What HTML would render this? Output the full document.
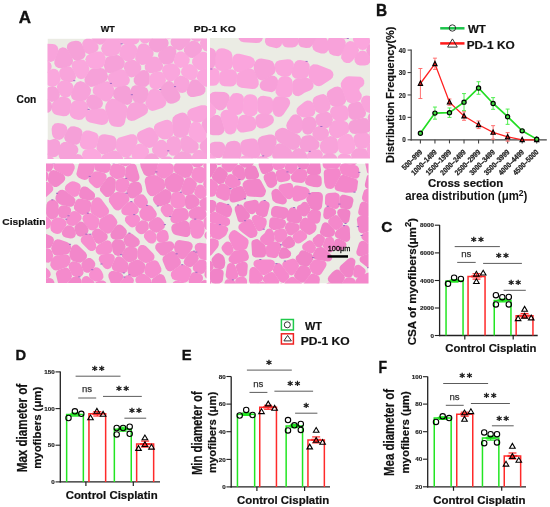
<!DOCTYPE html>
<html><head><meta charset="utf-8"><title>Figure</title>
<style>html,body{margin:0;padding:0;background:#fff;width:550px;height:507px;overflow:hidden}svg{display:block}</style>
</head><body>
<svg width="550" height="507" viewBox="0 0 550 507" font-family="Liberation Sans, Arial, sans-serif"><clipPath id="hc0"><rect x="47.5" y="38.6" width="159.5" height="120.4"/></clipPath>
<g clip-path="url(#hc0)"><rect x="47.5" y="38.6" width="159.5" height="120.4" fill="#ebece4"/>
<path fill="#f8a4db" d="M127.4,110.1 126.9,106.6 124.5,104.0 116.1,99.2 112.5,98.5 109.2,100.0 107.4,101.7 105.8,104.6 105.2,106.8 105.3,109.9 109.3,122.6 111.1,125.3 114.0,126.6 118.0,127.1 121.0,126.7 123.9,124.8 125.0,122.2ZM71.2,103.4 70.8,100.6 69.1,98.4 66.5,97.2 63.7,96.6 61.4,96.7 59.3,97.5 54.2,101.0 52.3,103.2 51.7,106.1 51.8,109.5 52.5,112.0 54.2,113.9 56.6,114.9 63.3,116.2 66.6,116.0 69.3,114.1 70.5,111.1ZM59.9,76.8 61.4,79.4 63.9,80.9 68.8,82.2 72.1,82.1 74.8,80.3 76.1,77.3 75.5,74.0 73.3,69.4 71.6,67.4 69.3,66.3 66.7,66.4 63.4,67.2 60.7,68.7 59.2,71.3 59.2,74.4ZM146.2,63.1 144.7,65.8 144.9,68.9 146.7,71.5 149.7,73.2 152.4,73.2 158.8,71.6 161.2,70.4 162.8,68.1 163.1,65.4 162.2,62.8 159.7,59.1 157.1,56.9 153.7,56.6 150.7,58.3ZM135.2,56.0 135.2,59.3 136.9,62.1 138.7,63.6 141.4,64.9 144.3,64.8 146.7,63.2 152.2,57.4 153.5,54.9 153.6,52.1 152.2,49.6 148.3,45.2 145.0,43.4 141.6,43.5 139.2,44.9 137.8,47.3ZM92.2,39.5 90.0,38.4 86.7,38.6 83.8,40.1 82.2,43.0 82.5,46.4 84.1,50.5 85.8,52.9 88.4,54.1 91.3,53.9 94.7,52.8 97.3,51.1 98.6,48.3 98.3,45.2 96.4,42.7ZM202.3,48.6 204.4,50.8 207.3,51.5 210.2,50.8 213.4,48.9 215.3,47.3 216.2,45.1 217.4,39.8 217.1,36.4 215.0,33.8 213.1,32.4 210.3,31.4 207.3,31.9 205.0,33.9 201.0,39.7 199.9,42.8 200.7,45.9ZM183.8,76.3 180.3,75.5 177.0,77.0 175.5,78.4 174.0,80.6 173.6,83.1 174.4,85.6 177.1,90.2 179.4,92.4 182.5,93.1 185.5,92.0 187.5,89.4 189.2,85.1 189.6,82.4 188.7,79.8 186.7,77.9ZM153.3,146.0 152.0,148.9 152.4,152.0 154.4,154.4 158.0,157.0 160.3,158.0 163.9,157.7 166.4,156.3 168.0,153.9 168.2,151.1 167.1,144.4 165.6,141.5 162.9,139.8 159.6,139.9 156.9,141.7ZM212.1,103.0 210.0,104.6 208.7,107.0 208.7,109.7 209.4,112.9 210.5,115.1 212.7,116.9 215.6,117.6 218.4,116.8 220.5,114.6 221.2,111.8 221.2,107.9 220.5,105.0 218.3,102.8 215.5,102.1ZM167.7,150.9 168.9,153.6 171.2,155.4 174.1,155.7 176.9,154.6 178.9,153.1 180.8,150.7 181.2,147.8 180.5,141.5 179.3,138.6 176.7,136.8 173.4,136.1 169.5,137.6 167.0,140.2 166.4,143.7ZM195.9,169.2 198.3,170.0 200.8,169.8 204.7,168.1 206.2,166.3 208.5,161.8 209.1,159.3 208.5,156.8 207.0,154.7 202.8,151.2 200.4,150.0 197.8,150.0 195.4,151.2 194.0,152.4 191.9,156.3 191.2,162.3 191.7,165.4 193.8,167.8Z"/>
<path fill="#f9a5dc" d="M106.6,112.4 105.4,110.2 103.3,108.8 100.7,108.4 91.9,108.9 89.2,109.8 87.3,111.8 86.1,114.0 85.3,116.5 85.8,119.2 87.4,121.3 89.8,122.5 98.9,124.5 101.9,124.9 104.8,124.6 107.1,122.9 108.4,120.4 108.2,117.5ZM96.0,85.2 93.6,87.0 92.6,89.9 93.0,92.9 95.0,95.2 102.6,100.6 105.0,101.6 107.6,101.4 109.9,100.1 111.3,98.8 113.0,95.8 114.1,90.8 114.1,88.2 112.9,85.9 110.8,83.3 107.7,81.3 104.0,81.7ZM87.9,111.8 88.6,109.3 88.3,106.8 87.3,104.3 85.2,101.6 81.9,100.6 76.3,100.5 73.6,101.2 71.5,103.1 70.5,105.8 69.8,112.7 70.2,115.4 71.8,117.6 74.2,118.9 78.5,119.9 82.1,119.6 84.8,117.1ZM147.8,108.3 149.7,110.1 152.1,110.9 154.6,110.6 162.8,107.7 165.4,105.6 166.4,102.4 165.5,99.2 160.6,91.5 158.5,89.6 155.9,88.9 154.0,88.8 150.5,89.8 148.3,92.8 145.6,100.9 145.4,103.4 146.3,105.8ZM58.0,83.4 56.8,86.4 57.4,89.6 59.9,94.2 61.6,96.2 65.1,97.4 67.8,97.3 70.1,96.0 71.6,93.8 73.3,89.5 73.5,86.3 72.1,83.5 69.4,81.8 64.6,80.5 61.3,80.7ZM125.4,85.9 127.8,84.8 129.4,82.6 129.9,80.0 129.2,77.4 126.2,72.1 124.3,70.1 121.7,69.2 119.0,69.5 111.3,72.6 108.6,74.8 107.6,78.3 108.9,81.8 112.1,85.6 114.6,87.4 117.8,87.6ZM36.3,61.8 35.1,64.7 35.5,67.7 37.2,71.5 39.5,74.1 42.8,74.9 46.1,73.7 49.5,71.0 51.3,68.7 51.7,65.9 50.8,63.2 48.6,61.3 44.5,59.1 41.9,58.4 39.3,59.0ZM119.5,51.7 119.4,54.7 120.9,57.4 123.0,59.6 125.6,61.1 128.6,61.2 131.3,60.5 134.0,59.1 135.5,56.6 137.1,51.4 137.2,48.8 136.2,46.3 134.2,44.6 131.6,44.0 126.2,43.9 122.7,45.0 120.6,48.0ZM139.6,39.3 141.1,41.9 143.7,43.4 146.7,43.4 149.3,41.8 155.7,35.3 157.0,33.3 157.3,29.9 156.4,27.1 154.3,25.1 151.5,24.4 148.2,24.4 145.9,24.8 144.0,26.1 140.0,30.2 138.6,32.8 138.6,35.7ZM121.2,31.2 118.8,33.3 117.9,36.4 118.8,39.6 120.2,41.7 122.2,43.6 125.0,44.4 133.8,44.5 136.4,43.9 138.5,42.3 139.6,39.9 139.5,37.2 138.8,34.5 136.6,31.3 133.2,28.8 130.4,27.8 127.4,28.3ZM162.7,24.4 159.8,25.1 157.7,27.3 156.9,30.2 157.7,33.1 159.9,35.2 165.6,38.4 168.5,39.2 171.4,38.4 173.5,36.3 175.4,33.1 176.1,30.2 175.4,27.3 173.2,25.1 170.3,24.4ZM191.1,108.4 188.8,109.9 187.4,112.2 187.2,114.9 188.3,117.5 189.8,119.6 193.4,121.8 197.6,122.5 199.9,122.5 202.0,121.5 207.4,117.6 209.4,115.0 209.7,111.6 209.2,109.5 207.8,106.8 205.3,105.2 201.1,105.3Z"/>
<path fill="#f6a1d9" d="M87.3,105.6 89.6,108.4 93.1,109.4 97.5,109.1 100.2,108.2 102.2,106.2 103.0,103.5 102.4,100.7 100.5,98.6 96.1,95.4 93.2,94.4 90.2,94.9 87.9,97.0 86.1,100.9 86.5,103.6ZM67.0,142.1 63.7,142.1 60.9,143.8 59.6,146.9 58.6,154.3 58.9,157.1 60.4,159.3 63.8,161.0 66.4,161.1 68.9,160.0 76.2,154.5 78.1,152.0 78.4,148.9 77.0,146.0 74.4,144.3ZM87.9,85.6 90.8,87.0 94.0,86.6 104.6,81.9 107.2,79.7 108.1,76.5 107.1,72.9 105.6,70.6 103.4,68.6 100.4,68.0 93.1,68.5 90.4,69.4 88.5,71.4 85.2,77.1 84.4,79.6 84.8,82.2 86.4,84.3ZM54.4,60.7 54.3,63.8 55.7,66.5 58.3,68.1 61.3,68.2 68.7,66.4 71.1,65.2 72.7,63.1 73.1,60.5 72.4,57.9 68.2,50.3 65.8,48.0 62.6,47.3 59.5,48.6 57.6,51.3ZM124.7,64.9 124.8,61.8 123.3,59.2 121.0,56.7 118.6,55.3 115.9,55.0 109.7,56.0 106.5,57.5 104.9,60.6 103.8,65.7 105.1,70.6 107.0,72.4 109.5,73.2 112.1,72.8 121.2,69.2 123.3,67.7ZM68.9,166.5 70.4,168.3 72.5,169.4 79.4,171.2 82.6,171.2 85.4,169.3 86.6,166.3 86.1,163.0 83.1,157.2 80.8,154.8 77.6,154.0 74.5,155.2 70.2,158.4 68.4,160.5 67.8,163.2ZM161.2,62.2 163.9,64.4 167.5,64.6 170.2,63.9 172.8,62.5 174.3,60.0 176.3,53.6 176.3,50.3 174.5,47.6 170.8,45.8 167.3,46.6 160.8,50.5 158.6,52.7 157.9,55.7 158.9,58.6ZM57.4,99.5 59.3,97.4 59.9,94.7 59.3,91.9 57.8,89.2 55.7,86.9 52.7,86.1 48.5,86.9 46.3,89.1 44.8,91.9 44.1,94.5 44.7,97.2 46.4,99.3 48.5,100.8 51.8,102.0 55.2,101.0ZM187.7,56.4 190.0,57.8 192.8,58.0 195.3,56.9 199.8,53.5 201.5,51.3 202.1,48.6 201.3,46.0 200.4,44.4 197.4,41.8 195.1,41.0 191.8,40.8 188.9,42.4 185.4,46.0 183.9,48.6 183.9,51.6 185.4,54.2ZM210.3,85.4 209.1,87.8 209.2,90.4 210.4,92.8 212.2,94.2 215.4,95.1 218.3,94.4 220.5,92.2 221.2,88.2 220.6,85.5 218.7,83.4 216.0,82.4 213.2,82.9ZM39.6,145.3 40.0,148.7 42.2,151.2 50.6,156.4 53.3,157.2 56.1,156.7 58.3,154.9 59.4,152.2 60.3,145.2 59.8,141.9 57.5,139.4 54.2,138.7 49.8,140.3 45.7,139.3 43.0,139.9 40.8,141.6ZM205.2,132.1 207.1,134.0 209.7,134.9 212.5,134.4 214.7,132.8 215.8,130.3 217.2,123.4 216.8,119.8 214.3,117.2 210.3,116.0 207.3,117.1 203.9,119.6 202.1,121.7 201.5,124.5 202.3,127.2Z"/>
<path fill="#f5a0d8" d="M124.0,104.3 127.2,105.0 130.3,103.9 132.3,101.2 132.5,98.0 130.8,90.2 129.4,87.5 126.9,85.9 123.9,85.8 117.8,87.1 115.0,88.7 113.4,91.5 113.0,93.4 113.4,97.0 115.8,99.7ZM135.2,76.0 133.7,78.6 133.7,81.6 135.2,84.2 137.9,85.7 142.5,86.9 145.9,86.7 148.7,84.6 149.7,81.3 149.8,76.3 149.3,73.8 147.3,71.3 144.7,70.1 141.8,70.2 139.4,71.7ZM152.4,50.6 154.6,52.1 157.2,52.5 159.7,51.7 165.9,48.0 168.0,45.9 168.7,43.0 167.9,40.1 165.8,38.0 161.0,35.3 158.6,34.5 156.1,34.9 154.0,36.3 150.3,40.1 148.9,42.6 148.8,45.5 150.2,48.0ZM187.0,89.2 186.7,92.4 188.1,95.2 190.7,96.9 193.9,97.0 200.8,95.4 203.7,94.0 205.4,91.4 205.5,88.2 203.8,85.5 198.9,80.8 196.5,79.4 193.7,79.3 191.2,80.6 189.6,82.9ZM64.8,134.6 64.1,137.9 65.4,141.0 68.2,142.9 73.6,144.6 76.7,144.7 79.4,143.2 80.9,140.5 82.4,134.4 82.4,131.4 81.0,128.9 78.5,127.4 74.2,126.2 70.6,126.6 67.9,129.1Z"/>
<path fill="#f7a3da" d="M126.1,114.3 126.4,117.5 128.4,120.1 131.4,121.1 134.6,120.4 145.0,114.9 147.4,112.7 148.2,109.6 147.3,106.5 144.8,103.8 142.4,102.9 135.4,102.1 131.2,103.3 129.4,104.7 127.2,108.2ZM96.5,146.1 96.5,148.8 97.8,151.2 99.0,152.6 102.0,154.4 105.5,154.1 112.8,151.1 115.4,149.1 116.4,146.0 116.6,141.5 116.1,138.8 114.4,136.6 111.9,135.5 104.9,134.2 101.9,134.5 99.5,136.1 98.2,138.7ZM42.0,120.5 39.1,119.7 36.2,120.5 34.0,122.6 33.2,125.5 33.2,132.7 34.2,135.8 36.7,138.0 40.7,138.9 44.0,137.3 45.8,135.1 46.3,132.3 45.8,125.6 45.0,123.0ZM128.5,60.7 125.8,62.1 124.3,64.7 123.8,67.9 124.5,70.1 126.9,74.5 128.7,76.4 131.2,77.4 133.9,77.1 136.1,75.7 139.8,72.0 141.3,69.3 141.2,66.2 139.4,63.6 136.7,61.2 134.3,60.0 131.6,60.0ZM91.3,35.6 91.4,38.3 93.3,41.0 96.7,43.6 99.5,44.7 102.5,44.3 104.9,42.5 106.6,40.2 107.8,37.2 107.2,34.0 105.0,31.7 100.9,29.3 97.7,28.5 94.6,29.6 93.6,30.3 91.8,32.3ZM58.1,122.9 54.7,123.5 52.3,125.9 51.6,129.1 52.0,134.1 53.0,136.9 55.3,138.9 59.3,140.0 62.0,139.1 64.0,137.0 66.7,132.2 67.4,129.7 66.9,127.0 65.3,124.9 62.9,123.7ZM141.3,165.1 138.8,162.0 131.8,157.8 128.1,157.0 127.1,157.1 124.3,158.3 122.5,160.7 121.0,164.4 120.6,167.7 122.2,170.6 124.9,172.8 127.2,173.2 135.9,173.2 138.6,172.6 140.7,170.8 141.7,168.3ZM53.4,164.3 52.5,167.2 53.2,170.2 55.3,172.4 58.3,173.2 63.4,173.2 66.3,172.5 68.4,170.4 69.2,167.6 68.5,164.7 66.4,161.7 64.3,160.6 61.3,159.7 57.6,159.9 54.8,162.2ZM197.9,25.1 195.1,25.0 192.6,26.1 190.6,27.8 188.6,30.9 189.0,34.6 190.4,37.9 191.8,39.8 195.1,41.5 197.6,41.8 200.0,41.1 201.8,39.4 204.8,35.0 205.8,32.5 205.5,29.8 204.0,27.5 201.7,26.2ZM43.2,151.2 40.0,150.3 36.8,151.4 34.8,154.0 34.5,157.3 35.6,162.8 36.8,165.3 39.0,166.9 45.0,169.5 47.6,169.9 50.2,169.1 52.1,167.3 53.8,164.7 54.7,161.8 54.0,158.9 52.0,156.6ZM196.8,150.7 198.7,147.9 198.6,144.4 196.6,141.6 190.4,136.9 187.8,135.7 184.9,136.0 181.7,137.8 180.4,140.0 180.1,142.5 180.7,147.3 182.0,150.4 184.9,152.2 189.5,153.5 192.3,153.6 194.8,152.4Z"/>
<path fill="#f7a2da" d="M71.3,93.1 71.0,95.9 71.9,98.5 74.0,100.3 76.7,101.0 82.6,101.1 85.4,100.4 87.6,98.4 90.4,94.1 91.2,89.8 89.2,86.2 84.8,82.4 80.5,80.9 76.5,82.5 74.4,85.2ZM172.9,132.2 174.0,135.3 176.7,137.3 177.9,137.7 181.8,137.7 185.2,136.5 187.5,134.9 188.8,132.4 191.0,123.8 191.0,121.2 190.0,118.9 186.9,114.8 184.9,113.1 182.5,112.5 180.0,112.9 175.4,115.1 172.9,117.4 172.2,120.6ZM201.3,142.1 199.6,144.9 199.7,148.1 201.5,150.8 207.3,155.6 210.2,156.9 213.3,156.5 215.7,154.5 218.7,150.2 219.7,147.5 219.3,144.6 217.1,139.3 214.7,136.6 211.2,135.7 209.8,135.9 206.4,137.4Z"/>
<path fill="#faa6dd" d="M80.0,142.2 79.9,144.9 81.1,147.3 83.1,148.9 85.7,149.5 91.8,149.3 94.3,148.7 96.2,147.1 97.3,144.8 98.6,139.0 98.5,136.1 97.1,133.6 94.6,132.2 89.1,130.5 86.0,130.5 83.4,132.0 81.8,134.7ZM162.3,68.3 162.0,70.6 162.6,72.9 165.5,78.4 167.2,80.4 169.7,81.4 172.3,81.2 174.6,79.9 178.6,76.2 179.9,74.4 180.5,71.8 180.0,69.4 178.6,67.4 175.6,64.7 173.1,63.4 170.2,63.4 166.4,64.4 163.9,65.7ZM33.2,91.3 34.2,94.5 36.8,96.6 40.1,97.0 42.5,96.0 44.1,94.1 46.8,89.2 47.6,86.3 46.8,83.4 44.4,79.5 42.3,77.4 39.3,76.7 36.4,77.5 34.0,79.9 33.2,82.7ZM213.9,72.6 212.4,69.6 209.6,67.9 206.3,68.0 201.1,69.7 198.7,71.2 197.3,73.6 196.9,75.2 196.8,78.3 198.4,81.0 202.9,85.3 205.7,86.8 208.9,86.6 211.4,84.7 213.5,82.2 214.5,80.1 214.7,77.7ZM132.1,152.4 131.5,155.1 132.3,157.9 134.3,159.9 136.3,161.1 138.8,161.9 141.4,161.5 143.6,160.0 147.7,155.3 149.1,152.5 148.7,149.3 146.8,146.8 143.5,144.5 140.4,143.4 137.2,144.2 134.9,146.6Z"/>
<path fill="#faa7dd" d="M149.2,83.4 149.9,86.3 152.0,88.5 154.8,89.3 158.7,89.0 160.6,87.7 164.4,83.9 166.0,80.7 165.4,77.1 164.0,74.4 162.3,72.4 160.0,71.4 157.5,71.4 153.7,72.4 150.6,74.4 149.3,77.9ZM76.4,60.1 74.0,61.1 72.2,63.1 71.6,65.7 72.2,68.3 76.0,76.0 78.0,78.3 81.0,79.2 84.0,78.5 86.2,76.3 88.7,71.9 89.5,69.0 88.7,66.0 86.5,62.2 83.9,59.8 80.5,59.4ZM46.3,83.7 48.4,85.8 51.3,86.6 53.2,86.6 55.8,86.0 57.9,84.3 59.5,82.2 60.6,79.7 60.5,77.1 59.3,72.9 57.9,70.4 55.5,68.9 52.7,68.7 50.1,69.9 45.9,73.2 44.2,75.3 43.7,78.0 44.5,80.7ZM194.2,57.1 192.3,59.6 192.0,62.7 193.4,65.5 195.7,68.2 198.6,70.0 201.9,69.9 206.7,68.3 209.2,66.8 210.5,64.2 210.5,61.3 209.0,55.9 207.7,53.4 205.3,51.9 202.5,51.7 199.9,52.8Z"/>
<path fill="#f5a1d8" d="M137.8,85.2 134.8,85.2 132.3,86.6 130.8,89.1 130.7,92.0 132.1,98.3 133.9,101.4 137.1,102.8 140.5,103.2 143.1,102.9 145.3,101.5 146.7,99.3 148.3,94.2 148.5,91.1 147.0,88.3 144.2,86.8ZM35.6,106.7 35.9,109.5 37.5,111.9 40.0,113.2 48.9,112.5 51.4,110.3 52.2,107.0 51.5,103.1 49.8,101.2 45.6,98.1 42.8,97.0 39.9,97.4 37.6,99.2 36.4,101.9ZM174.0,83.9 172.2,82.0 169.8,81.1 167.1,81.3 164.9,82.7 161.8,85.9 160.4,88.1 160.1,90.7 161.0,93.1 166.1,101.1 168.0,103.0 170.6,103.8 173.2,103.4 176.5,102.2 179.3,100.3 180.5,97.1 179.7,93.8ZM80.8,59.8 83.8,58.3 85.5,55.4 85.2,52.0 82.2,44.4 80.7,42.2 78.4,40.9 75.7,40.8 71.5,41.6 69.0,42.7 67.3,44.8 66.8,47.5 67.5,50.1 71.6,57.5 74.1,59.9 77.6,60.4ZM143.7,159.1 142.3,162.1 142.8,165.3 145.0,167.8 148.2,168.7 152.8,168.6 156.1,167.6 158.2,164.8 159.0,162.3 159.1,158.6 157.0,155.7 155.0,154.2 152.4,153.2 149.6,153.5 147.3,155.1Z"/>
<path fill="#fba8de" d="M87.6,148.9 84.8,149.7 82.8,151.7 82.0,154.5 82.6,157.3 85.9,163.8 88.0,166.1 91.0,167.0 94.0,166.2 98.4,163.6 100.2,162.0 101.5,158.1 101.4,155.5 100.2,153.1 98.0,150.7 96.0,149.2 93.5,148.7ZM183.6,66.9 181.6,69.0 180.9,71.9 181.7,74.8 183.8,76.8 188.4,79.5 190.8,80.2 193.6,79.7 195.9,78.2 197.2,75.9 197.8,73.8 197.9,71.0 196.6,68.4 194.4,65.9 192.2,64.4 189.5,64.0 186.9,64.8ZM184.8,52.9 182.3,51.4 179.3,51.4 176.8,52.8 175.2,55.3 174.0,59.4 173.9,62.7 175.6,65.4 177.0,66.7 180.4,68.1 184.0,67.3 187.2,65.2 189.4,62.6 189.8,59.2 188.2,56.2ZM188.5,131.6 188.7,134.9 190.6,137.6 195.6,141.5 198.1,142.6 200.8,142.5 203.1,141.1 204.8,139.5 206.3,137.4 206.7,134.8 205.9,132.3 201.4,124.8 199.8,123.0 197.5,122.0 193.6,122.1 191.2,123.6 189.9,126.2ZM216.8,159.8 213.6,158.5 210.3,159.2 207.9,161.7 206.6,164.4 206.0,168.1 208.3,171.7 212.2,173.2 215.4,173.2 218.3,172.5 220.5,170.3 221.2,167.4 220.7,163.7 219.1,161.7Z"/>
<path fill="#fba7de" d="M89.3,54.0 86.5,56.0 85.3,59.2 86.1,62.5 88.2,66.1 90.5,68.3 93.6,69.0 99.4,68.6 102.9,67.1 104.7,63.9 105.6,59.3 105.6,56.9 103.8,53.6 100.9,51.4 97.3,51.4Z"/>
<path fill="#f8a3db" d="M104.5,154.0 102.2,155.7 101.0,158.3 101.0,162.0 102.5,164.4 108.3,169.8 111.4,171.3 114.9,170.7 118.1,169.0 120.8,166.1 122.8,161.2 123.1,157.9 121.6,155.0 118.8,152.1 115.8,150.5 112.5,150.8ZM40.3,49.6 39.4,54.0 40.6,56.9 42.5,58.6 47.7,61.3 50.9,62.0 54.0,60.7 55.9,58.0 58.1,51.5 58.3,48.8 57.3,46.3 55.2,44.5 52.6,43.9 47.6,43.8 44.7,44.4 42.4,46.4ZM140.2,130.9 138.1,132.5 136.9,134.9 137.3,139.0 139.5,142.2 146.2,147.0 148.8,148.0 151.7,147.6 154.0,146.0 157.4,141.8 158.8,138.4 157.7,134.8 154.2,129.8 152.2,128.0 149.5,127.3 146.9,127.9ZM157.4,165.5 157.1,168.2 158.1,170.8 160.2,172.6 162.8,173.2 165.2,173.2 167.9,172.6 171.9,170.6 174.0,168.8 175.0,166.1 174.6,163.3 173.3,160.0 171.7,157.7 169.3,156.5 166.5,156.5 163.1,157.3 160.6,158.7 159.0,161.0Z"/>
<path fill="#f9a6dc" d="M118.0,37.3 116.0,35.4 113.4,34.6 110.6,35.2 108.5,36.9 102.2,45.1 101.0,48.6 102.1,52.1 103.7,54.2 106.1,56.2 109.3,56.6 115.3,55.6 118.3,54.3 120.0,51.6 121.5,46.6 121.7,44.1 120.8,41.8ZM130.6,134.3 118.6,137.8 116.8,139.7 116.1,142.3 115.9,147.2 116.3,149.5 117.5,151.5 121.8,156.0 124.1,157.4 127.1,157.7 129.8,156.6 131.6,154.5 137.4,142.8 137.7,138.5 136.2,135.8 133.6,134.3ZM157.7,122.7 155.4,124.2 154.1,126.4 153.9,129.1 154.8,131.5 158.5,136.8 162.0,139.1 164.0,139.5 167.9,139.0 170.3,137.7 172.7,135.4 173.4,132.2 173.0,125.2 172.2,122.6 170.3,120.7 167.8,119.8 165.1,120.1Z"/>
<path fill="#f6a2d9" d="M171.2,39.1 170.5,41.7 170.9,44.3 172.5,46.4 175.3,48.9 179.1,50.4 181.6,49.9 183.5,48.6 189.2,42.8 190.7,39.8 190.3,36.4 188.8,32.9 187.3,30.9 185.1,29.7 182.4,28.8 179.8,28.7 177.4,29.6 175.7,31.5ZM209.9,60.8 211.6,63.6 214.6,65.1 217.8,64.6 220.3,62.5 221.2,59.3 221.2,53.9 220.5,51.0 218.4,48.9 215.5,48.1 212.6,48.8 209.4,51.3 208.5,53.6 208.6,56.1ZM175.4,155.1 173.3,158.1 173.5,161.8 175.2,166.1 177.0,168.5 179.8,169.7 182.8,169.4 188.1,167.2 190.5,165.4 191.7,162.5 192.1,158.7 191.8,156.1 190.3,153.8 187.9,152.5 184.0,151.4 181.4,151.3 179.0,152.4Z"/>
<path d="M110.3,83.4h1.3M131.2,94.7h1.3M88.0,109.4h1.3M73.6,80.7h1.3M159.6,89.5h1.3M121.0,43.8h1.3M183.6,29.4h1.3M174.4,86.6h1.3M167.6,150.8h1.3M141.9,163.4h1.3M209.2,172.3h1.3" stroke="#8a5cc0" stroke-width="1.0" stroke-linecap="round" opacity="0.8"/>
</g>
<clipPath id="hc1"><rect x="210" y="38" width="160" height="120.5"/></clipPath>
<g clip-path="url(#hc1)"><rect x="210" y="38" width="160" height="120.5" fill="#ebece4"/>
<path fill="#fba5dd" d="M367.9,37.0 371.4,37.3 374.5,35.4 375.6,34.1 376.9,29.9 376.9,29.1 376.0,26.4 373.9,24.5 371.1,23.8 366.7,23.8 363.6,24.6 361.5,27.1 360.6,30.7 361.8,33.6 364.3,35.5ZM360.8,33.6 357.9,33.3 355.1,34.4 353.3,36.8 352.9,39.7 354.0,42.5 358.0,47.8 360.1,49.5 362.7,50.1 365.4,49.4 367.4,47.6 369.4,44.7 370.4,41.4 369.4,38.2 366.8,36.0ZM203.5,155.5 201.6,158.3 201.6,161.7 203.4,164.5 205.7,166.3 208.3,167.6 211.1,167.4 212.9,166.8 215.4,165.2 216.7,162.6 216.6,159.6 215.1,157.1 212.6,154.7 210.2,153.3 207.5,153.2 205.0,154.3ZM239.4,53.8 236.7,53.8 234.3,55.1 232.7,57.3 232.3,60.0 232.9,67.0 234.2,70.2 237.1,72.1 240.6,71.9 251.0,68.2 253.0,67.0 254.6,64.5 255.0,61.3 253.5,58.3 250.6,56.6Z"/>
<path fill="#faa5dc" d="M355.2,43.3 352.8,41.4 349.8,41.0 347.0,42.2 345.2,44.6 341.3,54.7 341.1,58.3 343.8,61.9 346.4,63.1 349.7,62.9 352.3,61.0 357.8,53.9 359.1,50.3 357.9,46.8ZM279.5,60.2 276.5,61.5 274.7,64.2 274.6,67.5 275.6,71.1 277.4,74.0 278.3,74.8 281.3,76.2 285.7,76.8 288.4,76.5 290.7,75.0 292.0,72.7 293.8,66.7 293.9,63.8 292.7,61.3 290.4,59.6 287.6,59.2ZM232.3,55.0 231.2,52.0 228.5,50.1 224.4,48.5 221.6,48.2 218.7,48.8 216.5,50.8 215.6,53.6 214.9,64.3 215.3,66.9 216.9,69.1 219.7,70.8 222.2,70.9 228.2,70.0 230.8,68.9 232.6,66.6 233.1,63.8Z"/>
<path fill="#f69fd8" d="M369.5,56.8 372.1,58.8 375.4,59.0 378.4,57.4 379.9,54.4 380.4,51.2 380.2,48.3 378.5,45.8 376.8,44.3 373.9,43.0 370.7,43.4 368.2,45.5 367.2,47.0 366.1,50.4 367.2,53.7ZM318.1,27.3 317.2,30.5 318.2,33.6 320.7,35.7 324.9,37.5 327.5,37.9 330.0,37.2 332.7,35.1 333.7,32.8 334.1,30.6 333.7,27.3 331.6,24.7 328.4,23.8 323.5,23.8 320.7,24.5ZM352.0,102.8 349.7,104.1 348.2,106.2 347.8,108.8 348.4,114.7 349.5,117.8 352.1,119.7 355.3,119.9 361.4,118.6 363.8,117.5 365.5,115.5 366.1,112.9 365.4,110.3 362.5,104.7 360.8,102.6 358.4,101.6 355.8,101.7ZM302.0,129.2 302.9,132.0 304.9,134.0 307.7,134.8 310.4,134.2 312.6,132.3 315.8,127.6 316.8,125.2 316.5,122.5 314.7,118.4 312.6,117.0 310.1,116.6 307.2,116.8 304.4,117.7 302.4,119.9 301.7,122.8ZM305.6,135.4 302.6,136.8 300.8,139.5 299.7,143.6 299.9,147.2 302.2,150.0 305.9,151.9 308.2,151.8 315.2,150.2 318.0,148.6 319.6,145.7 319.4,142.5 317.4,139.9 312.5,136.1 310.4,135.1ZM301.6,149.1 298.8,148.1 294.8,149.3 291.9,152.6 290.3,157.2 290.1,159.8 291.0,162.2 292.9,164.0 298.9,167.5 302.5,168.3 305.8,166.7 306.7,165.9 308.3,163.2 308.3,160.2 306.6,154.1 304.2,150.7ZM272.3,152.9 272.1,156.0 273.4,158.8 276.1,160.4 283.0,162.6 286.0,162.7 288.6,161.4 290.3,159.0 291.7,154.8 292.0,152.2 291.1,149.8 289.3,148.0 283.0,144.1 279.7,143.2 276.5,144.3 274.5,147.0ZM222.4,156.4 222.3,159.3 223.6,162.0 226.0,163.6 229.0,163.8 235.3,162.6 237.7,161.5 239.4,159.5 241.1,156.3 241.7,152.9 240.7,145.8 239.6,143.0 237.2,141.2 234.2,140.8 230.5,141.3 227.5,142.6 225.7,145.3ZM195.8,150.3 196.6,153.4 199.0,155.5 202.2,156.1 205.2,154.8 207.1,153.3 208.6,151.4 209.3,147.9 208.3,144.6 205.7,142.5 202.3,142.1 200.3,142.6 198.0,143.7 196.3,145.7 195.8,148.2Z"/>
<path fill="#f9a3db" d="M355.5,56.0 354.3,58.9 354.9,62.1 356.9,64.4 359.9,65.4 364.9,65.5 368.0,64.7 370.2,62.4 370.8,59.3 369.8,56.3 367.3,53.0 365.3,51.2 362.7,50.5 360.1,51.1 358.0,52.8ZM370.1,143.2 370.9,141.1 370.5,137.2 369.3,134.7 367.1,133.1 364.3,132.6 358.5,133.2 355.3,134.4 353.5,137.2 353.4,140.6 354.6,144.5 356.6,147.4 359.8,148.6 362.9,148.8 365.9,148.2 368.1,146.2ZM334.9,106.1 332.4,107.1 330.6,109.1 330.0,111.7 330.5,114.4 331.9,117.1 333.7,119.3 336.3,120.4 342.3,121.2 345.7,120.6 348.1,118.3 348.9,115.0 348.5,110.4 347.4,107.5 345.0,105.5 341.9,105.1ZM334.9,137.7 337.6,138.3 340.2,137.6 346.3,134.2 348.6,132.0 349.3,128.8 349.2,126.3 348.4,123.8 346.6,121.9 344.2,121.0 337.3,120.0 333.8,120.6 331.4,123.1 329.2,127.3 328.8,131.7 330.4,135.0 332.2,136.4ZM298.6,106.5 296.9,108.6 296.4,111.3 297.1,113.9 300.1,116.5 303.6,117.5 309.9,117.1 313.1,115.9 315.1,113.2 315.2,109.8 313.8,104.7 312.4,102.2 310.0,100.7 307.1,100.5 304.5,101.7ZM343.5,153.6 340.6,154.1 338.2,156.0 337.2,158.8 336.7,163.1 337.1,165.9 338.8,168.2 341.9,170.7 344.9,171.9 348.1,171.4 350.5,169.2 352.7,165.5 353.5,162.8 353.0,160.1 351.6,157.3 349.8,155.0 347.0,154.0ZM308.7,75.5 309.0,77.8 310.1,79.8 314.1,84.3 316.3,85.8 319.0,86.2 321.5,85.4 330.7,79.6 332.7,77.5 333.5,74.8 332.8,72.0 330.7,69.7 317.3,64.5 313.2,64.3 310.3,66.2 309.1,69.4ZM270.3,97.0 263.5,95.8 260.3,96.3 257.9,98.5 257.1,101.7 257.3,108.6 258.0,111.3 260.0,113.4 262.7,114.2 267.2,114.5 270.2,113.8 272.5,111.6 273.3,108.6 273.2,102.0 272.4,99.1ZM245.0,114.7 242.2,115.0 239.8,116.6 238.4,119.1 236.9,125.5 236.9,128.4 238.3,130.8 240.6,132.4 243.4,132.6 251.9,130.9 254.4,129.6 256.0,127.2 256.3,124.4 255.7,120.6 254.1,117.4 251.0,115.7Z"/>
<path fill="#f8a1da" d="M343.9,38.8 347.1,38.8 349.9,37.1 351.2,34.2 350.9,31.0 349.3,27.3 347.1,24.7 343.9,23.8 339.7,23.8 337.1,24.4 335.1,26.0 334.0,28.5 333.6,30.3 333.8,33.2 335.3,35.6 337.7,37.0ZM265.5,23.8 262.5,24.5 260.4,26.7 259.7,29.6 261.0,33.3 263.4,35.5 266.6,36.1 269.6,34.8 270.6,34.0 272.3,31.8 272.7,29.0 271.7,26.3 269.6,24.4Z"/>
<path fill="#f8a2da" d="M333.2,55.6 338.4,56.2 341.0,54.9 342.6,52.6 345.5,45.3 345.8,42.2 344.4,39.3 341.7,37.7 335.2,35.7 333.0,35.5 330.6,36.3 328.3,38.7 327.6,42.0 328.4,50.4 329.9,53.8ZM313.0,43.4 312.2,46.6 313.3,49.7 315.9,51.7 321.0,53.5 324.5,53.5 326.8,52.2 328.3,50.0 328.6,47.4 328.1,41.6 327.0,38.7 324.6,36.8 323.0,36.1 320.3,35.7 317.6,36.5 315.7,38.6ZM281.7,41.8 282.6,44.8 284.8,46.9 287.8,47.6 292.5,47.5 295.5,46.8 297.7,44.7 298.5,41.7 298.0,37.3 296.7,35.4 294.5,33.2 291.9,31.8 289.0,31.8 286.0,32.6 282.9,34.6 281.7,38.1ZM266.9,36.4 265.1,39.0 264.9,42.1 266.4,44.9 269.1,46.5 276.6,48.2 279.5,47.3 281.5,45.2 282.2,42.4 282.2,36.7 281.6,34.1 279.5,31.7 277.2,30.7 274.6,30.8 272.4,31.9ZM292.1,90.5 292.9,93.5 295.3,95.7 298.4,96.2 301.3,95.1 304.5,92.8 310.0,90.6 312.3,89.0 313.5,86.5 313.5,83.8 312.2,81.4 310.8,79.8 308.6,78.2 306.0,77.8 297.4,78.5 294.7,79.4 292.8,81.5 292.1,84.3ZM332.6,154.1 335.6,153.3 337.8,151.0 338.4,148.0 338.0,142.0 337.1,139.1 334.8,137.2 333.4,136.4 330.3,135.9 327.3,137.0 322.2,140.8 320.6,142.6 319.7,146.7 320.8,150.7 323.7,153.5 326.3,154.1ZM254.9,165.7 255.4,168.4 257.1,170.6 259.6,171.8 262.4,171.6 265.2,170.8 267.7,169.3 269.1,166.7 269.9,163.6 269.9,160.6 268.4,158.0 265.8,156.6 263.4,155.9 260.9,155.8 257.6,157.5 255.9,159.4 255.1,161.9ZM279.2,96.2 276.0,96.8 273.6,98.9 272.7,102.0 272.8,111.3 273.6,114.1 275.6,116.2 278.4,117.0 281.3,116.4 283.5,114.4 289.2,105.9 290.2,103.1 289.7,100.2 287.9,97.9 285.1,96.9ZM261.2,113.7 258.0,114.5 255.7,117.0 255.2,120.3 255.7,123.6 257.0,126.5 259.6,128.2 262.7,128.4 267.3,127.0 271.1,124.8 273.2,122.8 274.0,119.9 273.3,117.1 271.3,114.9 268.5,114.0Z"/>
<path fill="#f6a0d8" d="M306.0,48.0 309.7,47.7 312.5,45.2 316.6,38.1 317.3,34.7 316.1,31.6 313.2,29.7 310.3,29.4 307.9,30.3 300.5,35.3 298.6,37.4 298.0,40.1 298.0,41.9 298.7,44.8 300.8,46.9ZM298.4,23.8 295.7,24.4 293.6,26.2 292.6,28.7 292.9,31.4 294.8,34.2 297.1,35.6 299.7,35.8 302.8,34.4 304.8,32.2 305.4,29.3 304.5,26.5 302.4,24.5ZM320.9,168.6 323.0,170.7 325.9,171.6 328.8,170.8 334.3,167.8 336.3,165.9 337.2,163.3 337.5,160.1 337.0,156.9 334.8,154.5 331.8,153.6 327.4,153.6 324.1,154.7 322.0,157.5 320.0,162.9 319.7,165.3ZM277.6,129.7 275.6,131.6 274.8,134.3 275.2,137.0 276.2,139.2 278.5,141.9 290.1,149.1 292.9,150.0 295.7,149.4 298.6,147.4 299.8,145.2 300.9,141.2 301.0,138.5 299.9,136.1 297.8,134.4 285.2,128.3 282.4,127.7 279.7,128.5ZM208.8,147.3 209.2,151.4 210.5,153.4 214.0,156.7 216.5,158.1 219.5,158.2 222.0,156.7 223.6,154.2 225.1,149.1 225.3,146.5 224.2,144.0 222.2,142.3 219.5,141.7 214.6,141.7 211.7,142.4 209.6,144.5Z"/>
<path fill="#f59ed7" d="M370.5,112.8 368.5,114.8 367.6,117.6 368.3,120.5 370.1,123.9 372.4,126.3 375.7,127.0 380.0,126.0 381.9,124.1 383.4,121.7 384.2,118.7 384.2,114.9 383.5,112.0 381.3,109.9 378.4,109.1 375.5,109.9ZM276.5,138.6 274.4,135.6 271.9,134.4 269.1,134.6 262.0,136.1 259.3,137.5 257.7,140.1 257.6,143.2 259.8,152.4 261.3,155.1 264.0,156.6 265.7,157.1 268.6,157.1 271.1,155.8 272.7,153.5 276.6,142.9ZM221.7,118.9 220.3,116.5 217.9,115.0 215.1,114.9 212.6,116.0 208.0,119.6 206.6,121.3 205.8,123.4 205.5,126.4 206.5,130.4 208.1,132.7 210.2,134.5 212.9,135.2 218.8,135.2 221.4,134.5 223.4,132.8 224.5,130.4 224.3,127.7Z"/>
<path fill="#f9a4db" d="M378.5,102.2 377.5,99.6 375.4,97.9 371.8,97.0 368.9,95.8 366.1,95.4 363.5,96.3 361.6,98.4 360.9,101.1 361.5,103.8 364.6,109.7 366.7,112.0 369.6,112.9 372.6,112.1 375.9,110.2 378.3,107.7 378.8,104.4ZM376.9,143.0 379.5,143.1 381.9,142.1 383.6,140.0 384.2,137.4 384.2,132.2 383.7,129.7 382.1,127.6 378.0,126.3 375.1,126.6 372.3,127.5 369.9,130.6 369.4,134.5 370.1,137.9 371.6,140.7 374.2,142.3ZM291.8,71.5 291.7,74.3 292.9,76.8 295.1,78.5 297.9,79.0 304.0,78.5 306.6,77.7 308.5,75.7 309.3,73.1 309.8,66.8 309.4,64.3 307.9,62.2 305.7,60.9 300.2,59.9 297.6,60.2 295.4,61.7 294.1,64.0ZM240.3,71.5 237.6,73.5 236.5,76.6 236.2,81.6 236.7,84.4 238.5,86.6 241.2,87.7 252.4,89.1 255.2,88.7 257.5,87.0 258.8,84.3 258.6,81.1 255.3,72.3 253.6,69.8 250.9,68.5 247.9,68.8Z"/>
<path fill="#f7a1d9" d="M239.1,33.5 238.2,36.3 238.9,39.2 240.9,41.4 243.8,42.3 256.1,43.0 259.4,42.7 261.9,40.7 263.0,37.6 262.2,34.4 259.6,30.0 257.2,27.8 253.9,27.3 244.8,28.3 242.3,29.2 240.5,31.1ZM367.7,151.7 365.8,149.3 362.8,148.3 358.7,148.0 356.1,148.5 354.0,149.9 352.4,151.6 351.0,154.7 351.5,158.0 352.6,160.5 354.3,162.5 356.7,163.7 363.6,165.1 366.8,164.8 369.3,163.0 370.5,160.1 370.1,157.0ZM319.5,113.2 316.8,114.7 315.3,117.4 315.4,120.6 316.1,122.7 317.4,125.0 319.6,126.4 323.7,127.9 326.4,128.3 329.0,127.2 330.9,125.2 332.3,122.3 333.0,119.7 332.4,117.1 331.4,114.9 329.7,112.9 327.3,111.8 324.7,111.8ZM342.8,90.0 340.8,87.5 337.8,86.4 334.6,87.0 329.7,89.7 327.7,91.5 326.7,94.1 327.0,96.8 329.2,102.8 330.6,105.0 332.9,106.3 335.5,106.5 341.2,105.7 344.3,104.3 346.1,101.3 345.8,97.9ZM316.9,140.1 320.3,141.3 323.8,140.2 326.7,138.1 328.6,135.7 329.0,132.6 327.8,129.8 325.3,128.0 321.3,126.5 318.8,126.1 316.3,126.9 314.5,128.6 313.3,130.4 312.3,133.1 312.7,136.0 314.5,138.3ZM268.9,165.5 269.1,168.9 271.2,171.7 274.5,172.8 279.1,172.8 282.3,171.8 284.4,169.4 284.9,166.2 283.6,163.2 280.9,161.4 276.6,160.1 273.5,160.0 270.8,161.5 269.3,164.1ZM274.2,64.1 272.5,61.3 269.5,59.9 261.4,58.5 258.9,58.7 256.6,59.9 255.1,62.0 253.8,65.0 253.7,69.3 256.4,76.6 258.4,79.3 261.5,80.4 264.7,79.6 272.7,75.0 274.5,73.3 275.5,71.0 275.4,68.5ZM216.1,108.9 219.2,110.5 222.7,110.0 223.5,109.6 226.3,106.8 229.2,100.4 229.8,97.6 228.9,94.9 226.9,92.9 224.2,92.1 215.1,91.8 212.4,92.3 210.2,94.0 208.8,98.1 209.0,100.9 210.5,103.3Z"/>
<path fill="#f59fd7" d="M353.2,119.9 350.7,121.0 349.1,123.2 348.6,125.9 348.8,128.6 349.8,131.4 352.1,133.4 355.1,134.0 366.2,133.0 368.9,132.0 370.8,129.9 371.6,127.1 370.9,124.4 369.1,120.8 366.4,118.3 362.7,117.9ZM205.1,90.7 202.1,89.5 199.0,90.1 196.6,92.2 195.8,95.3 195.8,97.9 196.4,100.7 198.3,102.8 201.0,103.7 203.7,103.3 205.8,102.5 208.1,100.8 209.3,98.2 209.3,95.0 208.1,92.7Z"/>
<path fill="#faa4dc" d="M349.0,76.3 346.2,76.8 344.0,78.5 342.2,80.6 340.7,83.5 341.0,86.7 345.9,99.6 347.6,101.9 350.1,103.1 352.9,103.0 357.7,101.7 360.2,100.2 361.7,97.6 361.7,94.6 359.5,91.1 359.3,89.6 360.3,87.8 363.1,85.9 364.3,83.4 364.2,80.6 362.9,78.2 360.5,76.7ZM382.3,147.9 381.0,144.7 378.1,142.8 375.1,142.0 371.5,142.1 368.7,144.4 367.6,146.1 366.7,148.8 367.1,151.6 370.1,158.3 371.6,160.4 373.8,161.6 376.4,161.7 378.1,161.4 380.7,160.2 382.5,158.0 382.9,155.2ZM275.5,89.5 275.6,92.8 277.4,95.6 280.5,96.9 286.1,97.5 289.3,96.9 291.7,94.8 292.5,91.7 292.6,82.3 291.9,79.6 290.1,77.5 287.6,76.5 284.5,76.1 281.8,76.4 279.5,77.9 278.1,80.3ZM247.9,171.7 251.3,171.7 254.1,169.8 255.4,166.6 255.5,163.5 255.2,161.1 253.7,159.0 251.6,157.7 246.3,155.9 243.5,155.7 241.0,156.7 239.2,158.8 238.4,161.8 239.1,164.5 240.7,167.7 242.2,169.5 244.2,170.6ZM224.1,70.1 221.6,71.1 219.9,73.1 219.2,75.6 219.0,80.2 219.6,83.1 221.7,85.4 224.5,86.3 230.7,86.5 233.6,85.9 235.8,83.9 236.7,81.1 237.1,75.4 236.7,73.1 235.6,71.1 233.1,69.4 230.3,69.2ZM229.1,110.5 226.5,109.7 223.8,110.2 221.7,111.9 220.5,114.4 220.7,117.2 224.6,130.5 226.0,132.9 228.3,134.3 231.1,134.6 234.6,133.0 236.3,130.1 238.5,120.7 238.2,117.1 235.8,114.3ZM227.1,103.8 226.6,106.6 227.4,109.3 229.5,111.3 234.5,114.2 237.3,115.0 240.1,114.3 242.3,112.3 243.2,109.6 244.0,99.4 243.5,96.5 241.6,94.2 238.8,93.2 236.4,92.9 233.0,93.6 230.6,96.3Z"/>
<path fill="#fba6dd" d="M353.2,137.9 351.3,135.1 348.1,133.8 344.8,134.5 340.5,136.9 338.2,139.2 337.5,142.3 338.0,148.7 338.8,151.3 340.6,153.2 343.1,154.1 347.3,154.5 349.9,154.2 352.2,152.7 354.0,150.6 355.4,148.0 355.3,145.0ZM204.6,80.0 205.4,82.8 207.4,84.9 210.2,85.7 213.4,85.8 216.4,85.2 218.6,83.1 219.5,80.3 219.7,73.9 219.1,71.0 217.2,68.8 214.4,67.9 211.5,68.4 207.9,70.1 205.4,72.3 204.5,75.5ZM242.7,109.5 243.2,112.3 244.9,114.5 247.5,115.7 251.0,116.3 254.4,115.8 256.9,113.6 257.8,110.4 257.6,100.2 256.8,97.5 255.0,95.5 252.4,94.6 249.9,94.3 246.9,94.8 244.5,96.8 243.5,99.6ZM214.1,115.4 216.0,112.8 216.2,109.5 214.6,106.7 211.3,103.5 208.4,101.9 205.1,102.2 201.9,103.5 200.0,104.8 198.8,106.7 198.1,108.3 197.8,111.7 199.4,114.7 202.7,117.9 205.1,119.3 207.8,119.5 210.4,118.4Z"/>
<path fill="#f8a3da" d="M327.9,97.8 326.2,95.4 323.5,94.1 320.5,94.4 316.3,95.9 314.0,97.5 312.7,100.1 312.8,102.9 314.5,109.1 315.9,111.6 318.5,113.1 321.5,113.2 326.3,111.9 329.0,110.3 330.5,107.5 330.3,104.3ZM322.6,157.1 322.9,154.0 321.5,151.3 318.9,149.6 315.9,149.5 311.4,150.5 308.7,152.0 307.1,154.6 307.1,157.7 307.7,160.1 309.4,162.8 312.3,164.3 314.7,164.7 317.4,164.6 319.8,163.3 321.2,161.0Z"/>
<path fill="#f7a0d9" d="M298.9,115.2 296.0,114.2 293.1,114.8 290.9,116.8 287.1,122.5 286.2,125.6 287.0,128.7 289.4,130.9 294.1,133.2 297.0,133.7 299.8,132.8 301.8,130.6 302.5,127.7 302.1,120.2 301.4,117.6ZM252.7,158.6 255.8,158.7 258.5,157.3 260.1,154.7 260.2,151.7 258.0,142.7 256.6,140.1 254.1,138.6 251.1,138.4 245.2,139.4 242.5,140.5 240.6,142.9 240.2,145.9 240.9,151.2 242.2,154.1 244.8,156.0ZM201.2,51.4 199.7,53.5 199.3,56.1 199.8,65.6 200.6,68.3 202.5,70.3 205.2,71.1 208.0,70.6 212.1,68.7 214.4,66.7 215.4,63.8 216.1,54.0 215.5,51.0 213.4,48.7 210.5,47.8 207.7,47.8 203.7,49.2ZM262.5,80.3 260.5,82.3 259.6,85.0 260.1,87.7 261.8,89.9 264.4,91.1 271.9,92.2 274.8,90.8 276.5,88.1 277.9,82.9 278.0,80.2 276.9,77.7 274.7,76.1 272.0,75.6 269.4,76.3Z"/>
<path d="M347.2,38.4h1.3M319.7,24.9h1.3M300.0,35.4h1.3M296.7,36.3h1.3M306.0,61.4h1.3M320.7,126.5h1.3M309.1,151.4h1.3M271.7,160.7h1.3M210.7,69.0h1.3M262.5,155.9h1.3M207.9,153.2h1.3" stroke="#8a5cc0" stroke-width="1.0" stroke-linecap="round" opacity="0.8"/>
</g>
<clipPath id="hc2"><rect x="46" y="163.5" width="160.5" height="119.5"/></clipPath>
<g clip-path="url(#hc2)"><rect x="46" y="163.5" width="160.5" height="119.5" fill="#ebece4"/>
<path fill="#f48acc" d="M183.1,194.1 185.0,195.1 187.2,195.2 190.9,194.4 192.9,193.4 194.2,191.6 196.6,186.1 196.9,183.2 195.3,180.7 192.4,178.2 190.3,177.2 188.0,177.3 185.4,178.7 184.2,180.5 181.3,188.5 181.2,191.3ZM148.5,176.0 146.3,177.1 144.9,179.2 144.7,181.7 146.7,190.9 147.3,192.4 148.5,194.2 150.3,195.9 152.8,196.3 155.1,195.5 163.2,189.9 164.9,187.9 165.2,185.2 164.6,181.8 163.8,179.8 162.2,178.4 156.9,175.6 153.9,175.1ZM161.6,153.2 159.9,155.2 159.7,157.9 160.8,160.2 163.1,161.6 169.6,163.3 172.4,163.1 174.6,161.4 175.5,158.8 175.5,157.2 174.8,154.7 173.0,153.0 169.3,151.0 166.8,150.4 164.4,151.3ZM161.5,219.0 159.7,217.6 157.5,217.1 155.3,217.8 150.9,220.4 149.1,222.3 148.6,224.9 149.4,228.4 150.8,229.9 153.7,231.9 156.3,232.8 159.0,232.0 163.0,229.3 164.6,227.4 165.0,224.9 164.1,222.6ZM220.6,255.1 220.0,252.9 218.5,251.2 216.4,250.4 214.1,250.8 212.3,252.1 211.3,254.2 210.8,256.8 211.2,259.8 213.8,262.2 216.1,262.7 218.4,262.0 220.0,260.3 220.6,258.0ZM42.4,157.6 40.1,157.6 38.1,158.6 36.8,160.5 36.5,162.8 36.9,165.6 37.9,167.9 40.0,169.4 46.6,171.6 49.0,171.8 51.3,170.7 53.3,167.3 53.6,164.9 53.4,162.7 52.1,160.8 50.2,159.7ZM74.0,205.5 73.9,208.5 75.6,210.9 80.1,214.2 82.5,215.0 84.9,214.6 87.8,213.2 89.5,211.8 90.4,209.8 91.2,205.2 91.0,202.8 89.5,200.8 87.3,199.8 80.5,198.7 78.4,198.8 76.5,199.9 75.4,201.7ZM42.1,203.6 39.5,203.0 37.0,203.9 35.3,206.0 34.1,209.2 33.8,211.6 34.7,213.7 36.0,215.4 38.1,217.0 40.7,217.1 42.7,216.7 44.6,215.8 45.9,214.3 46.4,212.3 46.5,208.6 46.1,206.6 44.8,204.9ZM122.2,257.4 120.3,256.4 118.1,256.3 116.2,257.3 114.9,259.0 112.1,265.0 111.8,267.7 113.0,270.2 115.4,271.5 122.3,273.1 124.9,272.9 127.0,271.4 128.0,269.0 128.4,265.4 128.1,263.2 126.8,261.4ZM188.8,279.3 188.6,281.9 189.9,284.2 192.2,285.5 194.0,285.9 196.3,285.9 198.3,284.7 201.6,281.5 202.9,279.6 203.0,277.2 202.0,275.1 200.1,273.8 196.5,272.4 194.0,272.1 191.8,273.1 190.4,275.1ZM101.1,295.7 103.2,296.0 105.3,295.2 106.8,293.7 108.0,291.7 108.6,289.6 108.3,287.5 106.6,283.3 105.3,281.4 103.3,280.4 101.0,280.4 97.6,281.3 95.5,282.6 94.3,284.8 93.5,288.4 93.5,290.6 94.5,292.6 96.3,293.8ZM145.8,288.2 144.0,289.9 143.3,292.3 143.8,294.7 145.6,296.4 148.0,297.1 151.8,297.1 154.2,296.4 156.0,294.6 156.5,292.2 155.9,289.4 153.5,287.1 151.2,286.2 148.7,286.7ZM63.4,285.5 59.9,286.9 58.6,289.3 58.8,292.0 59.6,294.1 61.3,296.3 64.0,297.1 68.0,297.1 70.3,296.5 72.1,294.8 72.7,292.5 72.1,290.1 70.5,288.4 66.7,286.1ZM110.8,288.3 109.1,290.0 108.4,292.4 109.0,294.7 110.8,296.5 113.1,297.1 115.3,297.1 117.6,296.5 119.3,294.8 120.0,292.6 119.7,290.6 117.9,288.2 115.8,286.9 113.3,286.9ZM57.8,282.2 58.9,284.3 60.8,285.6 63.6,285.7 66.3,284.2 70.9,279.0 72.0,276.6 71.7,273.9 70.0,270.3 68.6,268.5 66.5,267.6 64.2,267.9 58.9,269.7 56.8,271.3 55.8,273.7Z"/>
<path fill="#f58bcd" d="M218.2,185.6 218.3,183.1 217.2,180.9 214.4,178.0 212.4,176.7 210.0,176.6 207.9,177.7 204.7,180.5 203.4,182.3 203.1,184.5 203.9,186.6 206.5,190.6 208.1,192.1 210.1,192.7 212.3,192.3 216.3,190.2 217.3,188.4ZM141.6,208.6 139.5,211.5 139.3,212.6 139.7,215.8 140.6,217.7 143.0,219.9 146.3,221.2 148.4,221.6 150.5,220.9 154.6,218.4 156.4,216.5 156.9,214.0 155.9,211.6 152.4,206.8 150.6,205.4 148.3,205.0 146.1,205.7ZM135.6,197.0 134.0,199.0 133.7,201.6 134.8,203.9 137.4,206.8 139.2,208.1 141.4,208.4 143.4,207.6 145.8,206.1 147.5,204.3 148.0,201.9 147.2,199.6 145.1,196.3 143.2,194.6 140.7,194.2 138.4,195.0ZM109.1,202.1 113.9,208.7 116.0,210.3 118.6,210.5 121.0,209.3 127.9,202.6 129.1,200.8 129.4,198.7 128.7,196.7 127.2,194.4 125.6,192.8 123.4,192.2 116.8,192.1 113.6,193.2 110.1,196.3 108.7,198.8ZM109.5,171.1 109.6,174.1 111.4,176.4 116.0,179.1 117.9,179.0 121.6,178.3 124.1,176.9 125.3,174.3 125.8,170.5 125.5,168.4 124.4,166.6 122.6,165.4 117.1,163.5 113.8,163.6 111.8,164.9 110.8,166.7ZM35.3,181.0 36.7,182.9 39.0,183.9 41.4,183.6 45.2,182.2 47.1,180.8 48.1,178.7 48.5,176.3 48.4,174.1 47.3,172.2 45.5,171.0 40.1,169.2 37.5,169.0 35.3,170.3 33.1,173.5 33.4,176.2ZM116.6,225.1 117.5,222.3 116.5,219.6 113.8,215.9 112.1,214.4 109.9,214.0 107.7,214.6 101.9,217.8 100.4,219.1 99.6,220.8 98.7,224.5 98.8,227.4 100.6,229.6 105.4,232.9 107.6,233.7 110.0,233.3 111.8,231.7ZM161.0,287.8 159.0,288.9 157.8,290.8 157.5,293.0 158.3,295.1 160.0,296.6 162.2,297.1 166.7,297.1 169.0,296.5 170.8,294.8 171.4,292.4 170.8,290.0 169.0,288.3 166.7,287.0 164.3,287.0ZM69.0,264.6 68.6,266.5 69.0,268.5 71.5,274.2 73.2,276.1 75.6,276.9 78.7,277.0 81.0,276.5 82.7,275.1 83.6,272.9 83.3,270.6 81.2,265.3 80.0,263.5 78.2,262.5 75.0,261.5 72.8,261.3 70.7,262.2Z"/>
<path fill="#f68dce" d="M199.8,183.2 201.7,183.0 203.2,182.0 207.6,178.2 209.0,176.0 209.0,173.4 207.6,171.2 203.9,167.9 202.1,166.9 200.0,166.8 196.3,167.4 194.0,168.4 192.6,170.4 191.4,173.7 191.3,176.5 192.8,178.9 196.6,182.1ZM207.8,171.6 210.0,172.7 212.4,172.5 214.4,171.1 217.1,168.0 218.1,166.0 218.0,163.8 216.6,160.3 214.9,159.1 211.3,157.5 208.9,157.1 206.7,158.0 205.1,159.8 203.5,163.4 203.2,166.3 204.7,168.9ZM214.8,149.4 212.4,150.1 210.7,151.9 210.1,154.4 211.0,156.8 213.0,158.4 216.7,159.0 219.5,157.3 220.6,154.1 220.0,151.8 218.2,150.0ZM204.1,186.6 202.2,185.0 199.8,184.5 197.4,185.4 195.9,187.3 194.4,190.7 194.2,193.6 195.7,196.1 197.7,197.8 200.3,198.9 203.0,198.4 205.1,197.3 206.9,195.5 207.5,193.0 206.7,190.6ZM194.6,219.0 192.4,219.2 190.6,220.4 189.5,222.3 189.3,224.4 191.0,234.6 192.4,237.2 195.0,238.4 197.6,238.8 200.2,238.3 202.1,236.5 204.1,233.2 204.7,230.1 203.8,223.6 202.4,221.0 199.7,219.7ZM58.3,158.9 56.2,159.4 54.5,160.8 53.7,162.9 53.3,165.8 53.8,168.6 55.7,170.6 65.7,175.9 68.2,176.5 70.5,175.7 72.2,173.9 74.7,168.4 74.7,165.9 73.6,163.9 70.4,160.4 68.8,159.3 67.0,158.9ZM93.1,199.4 91.5,202.3 90.3,209.1 90.6,211.8 92.4,213.9 97.8,217.4 100.2,218.2 102.7,217.6 106.8,215.3 108.6,213.5 109.2,210.9 108.3,208.4 101.3,199.1 99.3,197.6 96.8,197.3 94.5,198.3ZM96.0,247.6 95.6,251.0 96.6,253.1 98.4,254.4 100.7,254.8 108.3,253.9 110.6,253.1 112.1,251.1 112.5,248.7 112.0,244.4 111.2,242.2 109.4,240.7 107.2,240.2 104.9,240.9 98.2,244.8ZM40.3,183.8 38.4,185.2 37.4,187.3 37.5,189.6 38.9,194.4 40.1,196.4 42.1,197.6 44.4,197.7 46.5,196.7 51.8,192.1 53.2,189.9 53.2,187.4 51.9,185.2 49.7,183.1 47.4,181.9 44.8,182.1ZM164.0,205.0 162.0,206.1 160.8,208.0 160.6,210.3 161.5,212.3 163.8,215.5 165.7,217.0 168.1,217.3 170.4,216.4 171.9,214.5 173.4,211.1 173.7,208.6 172.7,206.2 170.0,204.1 167.3,204.1ZM138.0,275.7 136.2,277.2 135.3,279.4 135.6,281.7 137.0,283.6 141.8,287.4 144.2,288.4 146.9,287.9 148.8,286.9 150.7,285.2 151.4,282.9 151.1,279.7 149.9,278.1 146.4,274.9 143.9,273.7 141.2,274.1Z"/>
<path fill="#f389cb" d="M178.5,162.1 176.2,162.7 174.5,164.5 173.8,166.8 173.8,169.3 174.4,171.7 176.2,173.4 183.3,177.4 185.1,178.0 188.2,177.5 190.1,176.4 191.3,174.6 193.0,169.9 193.3,167.9 191.9,164.6 190.1,162.8 187.8,162.2ZM108.9,149.4 106.3,150.2 104.6,152.2 104.0,153.5 103.7,156.3 105.1,158.8 108.8,162.3 110.9,163.3 113.2,163.4 115.2,162.3 116.5,160.3 118.0,155.8 118.2,153.5 117.3,151.3 115.4,149.9 113.2,149.4ZM210.4,210.0 209.9,212.4 210.7,214.7 212.5,216.3 216.1,217.5 218.4,216.8 220.0,215.1 220.6,212.8 220.6,209.5 219.9,207.2 218.2,205.4 215.7,204.9 213.4,205.6 211.7,207.4ZM159.1,242.5 156.8,243.5 155.3,245.7 155.2,248.3 156.4,250.5 160.5,255.1 163.1,255.8 165.6,255.0 172.2,250.4 174.2,247.5 174.2,244.6 173.1,242.7 171.3,241.5 169.1,241.2ZM124.5,152.2 121.9,151.9 119.6,152.9 118.1,155.0 116.8,158.7 116.7,161.1 117.7,163.3 119.7,164.6 123.9,166.1 126.1,166.3 128.1,165.5 131.5,163.2 133.1,161.4 133.5,158.9 132.7,156.6 130.8,155.1ZM179.2,240.1 177.2,240.6 175.6,241.9 174.7,243.8 174.0,247.4 174.5,250.8 178.3,256.9 179.9,258.6 182.1,259.2 184.4,258.7 186.1,257.2 192.0,248.9 192.8,246.6 192.4,244.3 191.0,242.4 188.7,241.5ZM209.6,284.5 208.7,281.9 206.6,280.3 204.0,280.0 201.6,281.3 198.6,284.2 197.2,286.6 197.4,289.3 198.5,292.1 200.1,294.2 202.5,295.1 204.3,295.2 206.3,295.0 208.1,293.8 209.5,291.7 209.8,289.9ZM58.2,213.6 59.0,216.4 61.4,218.2 65.0,218.6 67.4,217.1 70.1,213.8 71.2,211.7 71.0,209.3 69.8,207.3 67.7,206.2 64.2,205.3 61.5,205.4 59.3,207.1 58.3,209.7ZM62.8,230.0 61.8,232.2 62.1,234.5 63.4,236.5 65.6,237.5 70.3,238.4 72.8,238.3 74.8,236.9 75.9,234.6 75.7,232.2 74.3,228.6 73.3,226.9 70.5,225.5 67.5,225.3 65.1,227.0ZM126.3,261.2 128.7,262.3 131.3,262.0 134.9,260.4 136.9,258.8 137.7,256.3 137.9,251.6 137.3,249.2 135.6,247.4 133.1,246.7 128.6,246.9 126.4,247.5 124.8,249.1 122.5,252.6 121.8,254.7 122.1,256.9 123.4,258.7ZM56.8,201.4 54.4,199.8 51.5,199.8 49.5,200.6 47.3,202.2 46.4,204.8 46.1,213.6 46.6,215.7 49.0,218.3 51.4,219.4 54.0,219.0 55.6,218.2 57.6,216.6 58.4,214.1 58.7,205.6 57.7,202.5ZM82.8,269.9 84.2,271.8 86.3,272.8 88.7,272.7 90.7,271.4 94.2,267.4 95.2,265.5 95.3,263.4 94.3,261.2 92.3,259.2 90.5,258.1 88.3,257.9 86.3,258.7 83.1,261.1 81.4,263.5 81.5,266.5ZM154.5,288.0 156.4,288.8 158.4,288.7 163.0,287.5 165.2,286.3 166.4,284.1 166.3,281.6 164.7,277.1 163.5,275.3 161.6,274.2 159.5,274.1 157.5,275.0 153.1,278.2 151.8,279.8 151.2,283.1 151.7,285.3ZM130.3,288.4 129.8,290.8 130.5,293.1 131.4,294.4 133.5,296.2 136.2,296.5 139.4,295.9 141.6,294.9 143.2,292.3 143.3,289.4 141.7,287.1 138.6,284.6 136.1,283.6 133.4,284.1 131.5,286.1ZM42.0,296.3 44.6,296.7 47.0,295.7 53.5,290.7 55.0,288.5 55.1,285.9 54.2,281.7 53.1,279.6 51.0,278.2 48.6,278.1 41.6,279.7 39.4,280.9 38.1,283.1 36.5,289.4 36.4,291.5 37.3,293.4 39.0,294.8Z"/>
<path fill="#f78ecf" d="M170.4,201.3 170.5,203.2 171.4,205.0 172.9,206.7 174.6,208.1 176.7,208.5 180.8,208.3 183.1,207.5 184.8,205.8 185.3,203.4 185.1,197.5 184.6,195.6 182.0,192.8 180.2,191.8 178.3,191.6 175.2,192.0 173.3,192.7 171.9,194.1 171.1,196.0ZM59.8,149.4 57.4,150.1 55.6,152.0 55.2,154.8 56.0,157.0 57.6,158.5 59.8,159.1 65.2,159.1 67.2,158.6 68.9,157.3 69.8,155.0 69.6,152.3 67.8,150.2 65.2,149.4ZM85.0,214.3 83.0,216.1 82.3,218.7 83.1,221.3 88.2,228.5 89.9,230.0 92.2,230.5 94.4,229.9 96.4,228.7 97.7,227.5 98.5,225.8 99.5,222.1 99.3,219.2 97.5,217.0 92.1,213.5 89.9,212.7 87.5,213.1ZM35.4,222.8 34.9,225.1 35.7,227.3 37.4,228.9 39.7,229.5 42.7,228.5 46.5,229.3 48.6,228.6 50.2,227.1 50.9,225.1 51.1,222.5 50.8,220.3 49.5,218.4 46.1,216.2 44.0,216.2 40.1,217.1 38.1,218.0 36.8,219.7ZM90.1,271.7 89.0,273.9 89.2,276.3 90.5,278.4 93.1,280.6 95.1,281.6 97.4,281.6 100.1,280.9 102.3,279.5 103.5,277.2 103.2,274.6 101.9,271.6 100.1,269.1 97.9,267.4 95.1,267.3 92.8,268.7ZM148.3,242.4 150.7,243.6 153.3,243.4 155.5,241.7 156.3,239.2 156.4,236.1 155.9,233.9 154.4,232.1 152.4,230.8 150.4,230.0 148.2,230.2 146.3,231.4 145.1,232.7 143.9,234.8 144.0,237.2 145.2,239.3ZM186.1,291.1 186.0,293.2 186.9,295.2 188.5,296.6 190.7,297.1 193.8,297.1 196.0,296.6 197.7,295.1 198.5,292.9 198.2,290.7 197.4,288.6 196.1,286.8 192.4,285.4 190.1,285.4 188.1,286.6 186.9,288.6Z"/>
<path fill="#f489cc" d="M170.7,216.9 170.3,219.5 171.5,221.9 173.7,223.3 176.4,223.2 185.7,220.4 187.5,219.3 188.7,217.5 189.0,215.4 188.6,212.5 187.2,209.7 185.2,208.3 183.4,208.0 177.3,208.2 174.8,209.1 173.2,211.1ZM104.7,158.2 102.6,157.1 100.3,157.1 97.4,157.9 95.5,158.9 94.2,160.6 93.9,162.7 94.2,167.2 95.3,170.0 97.9,171.5 104.7,172.9 107.0,172.8 109.0,171.6 110.1,169.7 110.8,167.4 110.8,164.8 109.5,162.6ZM194.0,264.6 192.9,266.6 192.8,268.9 193.8,270.9 195.7,272.2 199.3,273.7 201.8,274.0 204.1,272.9 205.5,270.8 207.2,265.8 207.3,263.3 206.0,261.0 203.8,259.8 199.8,259.5 197.8,260.7Z"/>
<path fill="#f388cb" d="M166.2,177.8 164.7,179.8 164.5,182.3 165.2,186.3 165.8,188.0 167.1,189.3 170.2,191.6 173.5,192.4 177.5,191.9 179.9,190.9 181.4,188.8 183.9,182.0 184.1,179.9 183.3,177.8 181.8,176.3 176.6,173.4 174.0,172.8 171.4,173.8ZM199.8,167.0 201.9,166.1 203.3,164.3 205.7,159.0 206.1,156.7 205.3,154.4 203.4,152.8 201.0,152.4 195.7,152.9 192.9,154.1 191.5,156.6 190.7,160.6 191.2,163.8 192.0,165.1 194.0,167.1 196.8,167.5ZM201.3,207.2 198.7,206.2 196.0,206.7 191.1,209.3 189.1,211.3 188.6,214.0 189.4,216.8 190.8,218.2 192.8,219.0 200.9,220.0 203.0,219.8 204.8,218.6 207.0,215.4 206.9,212.9 205.5,210.8ZM129.7,164.2 126.4,166.9 125.8,168.8 125.0,174.9 125.3,177.3 126.7,179.2 129.1,181.1 132.3,182.1 135.1,182.0 137.1,181.3 138.7,179.9 139.5,177.9 139.3,175.8 136.2,165.4 134.3,163.8 132.0,163.4ZM207.8,230.8 205.6,232.2 204.4,234.4 204.6,237.0 206.1,239.1 210.1,240.5 211.9,243.1 214.1,244.3 216.6,244.3 218.7,242.9 219.4,242.2 220.6,239.0 220.6,233.5 220.1,231.4 218.8,229.8 216.8,228.9 214.7,229.0ZM210.3,199.3 208.6,197.7 206.3,197.1 204.0,197.6 200.4,200.0 199.4,202.5 199.5,205.1 200.9,207.2 204.2,210.0 206.7,211.0 209.5,210.5 211.4,208.5 212.2,206.8 212.7,204.5 212.1,202.3ZM165.8,268.5 167.6,270.7 170.3,271.5 173.0,270.6 179.1,266.2 180.6,264.4 181.0,262.2 180.4,259.9 176.3,253.3 174.5,251.6 172.0,251.1 169.6,251.9 164.4,255.6 162.9,257.2 162.4,259.4 162.9,261.5ZM46.7,149.4 44.1,150.2 42.4,152.2 42.0,154.8 43.2,157.2 45.4,158.6 49.5,159.7 51.7,159.8 53.7,158.8 55.1,157.0 55.4,154.7 55.3,153.7 53.6,150.5 50.6,149.4ZM105.4,240.8 107.1,239.2 107.8,236.9 107.3,234.6 105.7,232.9 100.4,229.2 98.0,228.4 95.4,229.0 92.6,231.3 91.8,233.5 92.2,235.7 94.5,241.1 96.1,243.1 98.6,243.9 101.2,243.3ZM204.6,273.1 204.4,275.3 205.2,277.3 207.7,279.2 211.0,279.5 214.9,278.6 216.8,277.7 218.0,276.0 218.5,274.0 218.5,267.2 217.8,264.7 215.8,263.0 213.9,262.0 211.3,261.5 208.8,262.6 207.3,264.7ZM131.2,276.5 133.5,277.3 135.9,276.9 142.0,274.0 143.7,272.6 144.6,270.6 145.3,266.8 144.9,263.9 142.8,261.8 139.5,260.1 137.5,259.6 135.5,259.9 131.0,261.9 129.1,263.4 128.2,265.7 127.6,271.0 128.0,273.4 129.6,275.3ZM220.6,283.0 219.8,280.3 217.6,278.6 214.8,278.4 211.0,279.8 209.7,281.5 209.3,283.6 209.5,288.1 210.1,290.2 211.5,291.8 213.4,292.6 215.1,292.9 217.8,292.5 219.8,290.8 220.6,288.2ZM52.4,252.8 54.3,255.1 57.3,255.7 66.2,254.6 68.7,253.6 70.1,251.5 71.0,248.8 71.2,246.7 70.5,244.8 69.0,243.3 66.9,242.1 59.6,239.6 57.2,239.3 55.0,240.2 53.5,242.1 51.5,246.8 51.1,248.6ZM114.0,271.0 111.5,271.1 109.4,272.5 108.3,274.8 108.5,277.3 110.8,283.1 112.3,285.1 114.5,286.0 117.0,285.7 118.9,284.2 122.4,279.7 123.3,277.6 123.1,275.3 121.7,273.4 119.7,272.3Z"/>
<path fill="#f287ca" d="M154.9,195.4 153.3,197.3 152.9,199.8 153.8,202.1 155.6,204.5 157.9,206.1 160.6,206.2 167.4,204.3 169.6,202.8 170.7,200.4 171.4,195.3 171.1,192.8 169.5,190.8 168.3,189.9 165.6,189.1 162.9,189.9ZM185.1,205.1 185.8,207.3 187.5,209.0 189.8,209.6 192.1,209.0 197.1,206.4 198.6,205.1 199.6,202.6 199.5,200.0 198.1,197.9 195.0,195.2 193.1,194.2 191.0,194.2 188.7,194.6 186.7,195.6 185.4,197.3 184.9,199.4ZM186.7,162.4 188.8,161.9 190.4,160.5 191.3,158.6 191.7,156.7 191.5,154.2 189.9,152.1 187.6,151.2 181.5,150.5 179.3,150.7 177.5,152.0 176.5,153.0 175.3,156.1 175.9,159.9 177.6,161.7 180.0,162.3ZM87.5,187.3 85.4,186.4 83.1,186.6 81.2,187.8 80.0,189.8 79.1,193.4 79.1,196.0 80.5,198.2 82.9,199.3 89.8,200.4 92.2,200.1 94.2,198.7 95.1,196.4 94.9,194.0 93.4,192.0ZM189.6,224.5 188.4,222.2 186.2,220.8 183.5,220.8 174.5,223.6 172.5,224.8 171.3,226.9 171.5,229.9 172.4,232.2 173.7,234.0 175.8,235.0 185.1,237.0 187.4,236.9 189.3,235.8 190.5,233.8 190.7,231.6ZM55.7,196.3 55.4,198.7 56.3,201.0 57.6,202.7 60.1,204.4 69.2,206.8 71.4,206.8 73.5,205.8 75.3,202.4 75.4,199.4 73.7,197.0 64.9,190.6 62.6,189.7 60.1,190.1 58.4,191.3 57.2,192.9ZM184.5,259.2 183.6,261.7 184.3,264.3 186.3,266.1 187.6,266.8 190.5,267.2 193.1,265.9 197.5,261.3 198.8,258.8 198.3,256.0 197.1,253.4 195.5,251.6 193.2,250.8 190.9,251.2 189.0,252.7ZM39.3,243.2 39.7,245.7 41.3,247.7 43.8,248.4 47.6,248.6 50.3,247.9 52.1,245.8 53.6,242.3 54.0,239.8 53.1,237.6 51.1,236.1 46.4,234.1 44.3,233.7 42.2,234.4 40.6,235.8 39.9,237.9ZM70.3,258.1 71.5,260.0 73.4,261.2 78.1,262.6 80.3,262.8 82.2,261.9 85.2,259.8 86.8,257.7 87.0,255.0 85.7,252.6 79.0,245.9 77.0,244.6 74.6,244.6 72.5,245.7 71.2,247.7 69.5,252.7 69.5,255.7ZM74.0,290.7 76.2,291.4 78.5,290.9 80.2,289.4 81.1,287.3 81.7,282.0 81.3,279.5 79.6,277.5 77.2,276.8 73.0,277.0 71.3,278.3 68.8,281.1 67.6,283.6 68.0,286.2 69.8,288.2Z"/>
<path fill="#f68cce" d="M212.1,192.2 210.0,193.9 209.2,196.4 209.8,198.9 211.7,202.0 213.6,203.8 216.2,204.3 218.5,203.5 220.1,201.8 220.6,199.6 220.6,196.1 220.2,194.2 218.8,192.4 216.4,191.2 213.8,191.5ZM163.4,161.5 160.9,161.5 158.8,162.8 157.6,165.0 156.1,171.5 156.1,173.5 157.0,175.4 158.5,176.7 161.5,178.2 164.1,178.8 166.5,177.8 172.2,173.4 173.5,171.8 174.0,167.8 173.6,165.8 172.3,164.2 170.5,163.3ZM122.6,207.4 121.4,209.4 121.3,211.7 122.2,213.8 124.0,215.1 126.3,215.5 134.7,214.8 137.1,213.8 138.6,211.8 138.9,209.3 137.8,207.0 134.3,203.0 132.2,201.6 129.7,201.5 127.5,202.7ZM115.3,187.3 115.8,189.7 117.5,191.6 119.9,192.3 122.8,192.4 125.4,191.7 127.2,189.7 129.1,185.4 129.6,183.4 129.1,181.4 127.8,179.8 124.7,177.9 122.6,177.9 119.4,178.5 116.8,180.0 115.6,182.8ZM105.9,179.7 106.7,177.6 106.4,175.3 105.1,173.4 103.0,172.4 97.3,171.2 94.7,171.4 92.7,172.8 89.6,176.6 88.6,178.7 88.7,181.0 89.9,182.9 94.4,187.2 96.7,188.2 99.1,187.8 101.1,186.3ZM164.9,242.0 167.3,240.9 168.7,238.8 168.8,236.2 168.1,233.2 167.1,231.2 165.2,230.0 163.0,229.7 160.9,230.4 158.3,232.2 156.8,233.9 156.1,237.7 156.8,240.2 158.8,242.0 161.4,242.4ZM69.7,154.6 69.8,156.8 71.0,158.8 72.9,160.0 75.1,160.1 77.8,159.0 81.5,160.0 84.0,159.1 85.5,157.4 86.1,155.2 85.6,153.1 84.1,151.4 82.6,150.3 79.9,149.4 74.6,149.4 72.5,149.9 70.9,151.2ZM66.4,222.5 67.5,224.1 69.1,225.2 70.9,225.8 73.4,226.1 75.6,225.0 80.2,221.1 81.6,218.7 81.5,215.9 79.8,213.7 77.2,211.8 75.0,211.0 72.7,211.3 70.8,212.6 67.0,217.3 65.9,219.5ZM102.9,254.3 100.6,255.2 99.1,257.1 98.7,259.5 99.6,261.8 103.7,267.3 105.5,268.8 107.9,269.2 110.2,268.3 111.7,266.4 114.5,260.2 114.9,257.8 114.1,255.5 112.2,254.0 109.8,253.6ZM83.1,235.7 81.5,237.2 80.7,239.2 80.9,241.4 82.0,243.2 88.4,249.7 90.5,250.9 92.9,250.9 95.0,249.7 96.3,247.5 96.1,244.3 92.7,236.4 91.1,234.4 88.7,233.6 86.2,234.1ZM119.5,283.2 118.6,285.5 119.0,288.0 120.7,289.9 123.1,290.7 126.3,290.8 128.8,290.2 130.6,288.3 133.4,282.8 134.0,280.6 133.4,278.4 130.7,275.9 128.5,275.1 126.2,275.4 124.3,276.9ZM148.1,262.4 146.2,263.8 145.2,265.9 144.4,270.4 144.6,272.8 145.9,274.7 148.6,277.1 150.4,278.2 152.5,278.3 154.5,277.4 159.7,273.6 161.4,271.2 161.3,268.2 158.7,262.7 157.2,261.0 155.0,260.2 152.8,260.5ZM42.2,264.1 40.1,263.0 37.7,263.1 35.7,264.3 34.6,266.4 32.8,272.8 33.0,275.8 34.9,278.0 37.3,279.5 40.8,280.1 47.2,278.7 49.6,277.3 50.8,274.7 50.3,272.0 48.9,269.9Z"/>
<path fill="#f187c9" d="M143.1,156.6 141.3,157.7 140.1,159.5 139.8,161.7 140.7,167.0 143.5,173.5 144.7,175.1 146.5,176.1 148.6,176.2 152.4,175.6 154.9,174.4 156.2,172.0 158.5,162.1 158.1,158.8 157.6,157.8 155.7,155.9 152.0,154.3 150.1,154.4ZM125.0,249.1 125.7,247.0 125.3,244.8 124.3,242.3 122.5,240.2 119.8,239.4 116.4,239.5 113.9,240.2 112.2,242.2 111.8,244.7 112.6,251.5 114.4,254.6 115.0,255.1 117.9,256.1 120.2,255.5 121.9,253.9ZM75.9,224.5 74.4,226.9 74.5,229.7 76.0,233.7 77.6,235.8 80.1,236.8 82.6,236.2 86.1,234.4 88.0,232.6 88.6,230.1 87.8,227.6 85.0,223.5 83.0,221.9 80.4,221.6 78.0,222.7ZM111.2,232.3 110.3,234.7 110.9,237.2 112.6,239.1 115.1,239.7 120.5,239.6 122.7,239.0 124.4,237.4 126.2,234.6 126.9,232.6 126.7,230.5 125.6,228.7 122.6,225.7 120.2,224.5 117.6,224.7 115.5,226.3Z"/>
<path fill="#f78dcf" d="M129.1,215.1 126.6,216.0 125.0,218.1 124.9,220.8 126.2,223.1 129.8,226.5 132.0,227.4 134.3,227.1 136.3,225.7 139.2,222.2 140.2,219.7 139.7,217.0 137.8,215.1 135.1,214.5ZM191.3,273.1 191.6,270.8 190.7,268.7 189.0,267.2 184.6,265.1 182.1,264.6 179.8,265.5 172.7,270.6 171.0,272.8 170.8,275.5 172.4,278.9 174.5,280.1 183.4,282.4 185.7,282.4 187.7,281.3 189.0,279.4ZM65.7,226.5 66.7,224.3 66.4,221.9 65.0,219.7 63.3,218.7 60.0,217.5 56.5,217.6 53.7,218.9 51.8,220.4 50.9,222.7 50.4,227.8 51.0,230.7 53.3,232.7 55.8,233.7 57.8,234.1 59.7,233.5 61.3,232.2ZM66.7,184.6 65.3,186.3 64.8,188.4 65.3,190.5 66.7,192.2 72.0,196.0 74.1,196.9 76.3,196.6 78.2,195.4 79.3,193.4 80.6,188.3 80.7,186.1 79.7,184.1 77.8,182.8 74.6,181.5 72.3,181.2 70.1,182.1Z"/>
<path fill="#f288ca" d="M126.8,190.1 126.4,192.3 127.1,194.5 128.2,196.4 130.1,198.1 132.6,198.6 135.0,197.7 140.4,193.8 142.0,191.7 142.3,189.1 141.6,185.4 140.6,183.4 138.9,182.1 136.7,181.7 133.3,181.9 130.9,182.7 129.3,184.6ZM103.9,195.3 105.9,196.9 108.5,197.1 110.8,196.0 113.7,193.4 115.3,190.3 115.9,182.0 115.4,179.6 113.0,177.2 110.8,176.5 108.4,176.9 106.6,178.4 100.7,186.5 99.8,188.7 100.2,191.0ZM124.2,237.4 123.5,239.5 123.8,241.7 124.8,244.1 126.6,246.3 129.3,247.0 135.3,246.9 137.9,246.0 139.6,243.9 139.8,241.2 138.5,238.8 132.4,233.9 130.0,233.0 127.5,233.5 125.6,235.2ZM47.9,178.7 48.0,181.0 49.3,183.0 52.3,185.8 54.3,187.0 56.6,187.0 58.7,185.9 63.5,182.0 64.9,180.1 65.3,177.9 64.5,175.7 62.8,174.1 55.9,170.4 53.1,169.9 50.2,171.3 48.8,173.9Z"/>
<path fill="#f48bcc" d="M84.7,179.9 86.8,179.5 88.5,178.2 93.4,172.2 94.5,168.9 94.0,161.3 93.3,159.2 91.1,157.2 88.6,156.6 86.0,157.4 80.6,161.2 78.8,164.0 76.3,173.9 77.1,176.1 78.8,177.7 81.9,179.3ZM138.9,233.4 141.0,234.3 143.2,234.1 145.2,232.9 147.7,230.2 148.8,228.5 148.8,224.7 147.9,222.4 145.9,220.9 144.7,220.4 141.7,220.2 139.3,221.7 136.3,225.3 135.3,227.6 135.6,230.1 137.1,232.0Z"/>
<path fill="#f58ccd" d="M204.0,226.6 205.1,229.0 207.3,230.4 209.9,230.5 214.0,229.4 216.4,227.7 217.4,224.9 217.5,221.6 216.8,219.1 214.9,217.3 211.9,215.8 209.0,215.4 206.4,216.7 204.7,218.5 203.6,220.3 203.4,222.5ZM199.8,242.8 197.3,243.2 195.4,244.8 194.6,247.1 195.0,249.5 198.6,257.0 199.9,258.6 201.8,259.5 205.3,260.3 207.8,260.2 209.9,258.9 211.0,256.7 212.3,249.8 212.0,247.0 210.1,244.8 209.1,244.3 207.3,243.7ZM145.8,246.1 143.5,244.9 140.8,245.1 138.7,246.7 137.8,249.3 137.5,256.2 138.2,258.8 140.1,260.6 143.9,262.6 145.8,263.1 147.8,262.7 151.6,261.2 153.5,259.9 154.5,257.8 154.4,255.5 153.2,253.5ZM171.9,287.3 171.3,289.2 171.5,291.1 173.3,294.8 175.2,295.9 177.4,296.0 182.5,295.1 184.8,294.0 186.1,291.8 187.2,288.2 187.2,285.7 186.0,283.5 183.8,282.3 177.8,280.8 175.5,280.8 173.4,281.9 172.2,284.0ZM50.6,262.3 50.2,265.3 51.7,267.9 53.8,269.9 55.8,270.6 57.9,270.3 66.4,267.3 69.1,264.9 70.4,262.1 70.7,258.6 69.3,255.9 67.5,254.8 65.4,254.6 56.2,255.6 54.1,256.5 52.6,258.2ZM38.2,255.7 38.7,258.3 40.4,260.1 43.6,261.0 46.4,262.6 48.6,262.7 50.5,261.8 51.9,260.1 53.4,256.0 52.0,251.3 50.3,249.3 47.8,248.4 43.4,248.2 41.1,248.7 39.3,250.3 38.5,252.5ZM89.4,277.2 87.1,276.1 84.6,276.3 82.6,277.8 81.7,280.2 81.0,286.2 81.3,288.4 82.7,290.3 84.7,291.3 88.1,292.0 90.5,291.9 92.5,290.6 93.6,288.5 94.5,284.9 94.4,282.3 93.0,280.2Z"/>
<path d="M217.4,186.3h1.3M217.9,150.3h1.3M180.3,192.2h1.3M157.1,206.0h1.3M146.4,205.4h1.3M155.7,171.9h1.3M130.7,201.6h1.3M133.6,214.6h1.3M125.5,178.4h1.3M113.1,163.0h1.3M126.0,193.2h1.3M164.3,224.6h1.3M216.9,222.1h1.3M89.1,176.4h1.3M194.6,219.1h1.3M53.0,163.0h1.3M195.6,252.1h1.3M69.1,153.5h1.3M214.5,262.4h1.3M56.4,193.3h1.3M176.0,253.8h1.3M128.7,233.1h1.3M120.5,254.7h1.3M193.6,251.1h1.3M181.6,264.7h1.3M209.2,289.0h1.3M87.2,213.2h1.3M65.5,219.2h1.3M33.2,172.6h1.3M85.7,234.2h1.3M67.9,215.8h1.3M100.7,264.0h1.3M186.1,289.9h1.3M51.7,199.8h1.3M209.4,262.1h1.3M128.6,274.8h1.3M123.1,273.0h1.3M34.5,224.3h1.3M195.7,272.3h1.3M89.8,234.2h1.3M69.4,244.3h1.3M91.6,269.7h1.3M123.6,277.0h1.3M193.8,286.1h1.3M38.7,258.9h1.3M169.5,216.6h1.3M150.6,283.4h1.3M78.7,276.9h1.3M153.1,287.3h1.3M109.7,288.8h1.3" stroke="#8a5cc0" stroke-width="1.0" stroke-linecap="round" opacity="0.8"/>
</g>
<clipPath id="hc3"><rect x="210" y="163.5" width="158.5" height="120"/></clipPath>
<g clip-path="url(#hc3)"><rect x="210" y="163.5" width="158.5" height="120" fill="#ebece4"/>
<path fill="#f284c9" d="M235.5,149.4 233.4,150.0 231.9,151.7 231.6,153.9 232.4,155.9 234.2,157.2 237.3,157.6 239.5,156.3 240.6,154.7 240.8,152.8 240.1,151.1 238.6,149.8ZM241.2,165.6 239.4,164.9 237.4,165.1 235.8,166.2 233.0,169.6 232.1,171.5 232.3,173.6 233.5,175.3 238.8,179.5 241.0,180.4 243.2,179.9 244.9,178.3 245.3,176.0 244.7,169.9 244.2,168.3ZM215.3,208.2 215.3,210.1 216.0,211.7 217.4,212.9 225.5,216.9 227.8,217.3 229.9,216.4 231.1,214.4 232.1,211.2 232.1,209.0 230.6,205.7 228.9,204.7 221.6,202.2 219.4,202.0 217.4,203.0 216.3,204.8ZM206.3,260.6 204.0,260.0 201.8,260.9 200.5,262.9 199.1,267.6 199.1,269.6 200.0,271.4 201.7,272.5 205.5,273.8 207.6,273.9 209.5,272.8 212.5,270.0 213.6,268.0 213.5,265.8 212.6,263.1 211.5,261.5 209.7,260.6ZM271.3,193.2 272.2,199.0 272.9,200.7 275.9,203.0 282.2,204.4 284.2,204.3 285.8,203.2 286.8,201.5 286.8,199.5 285.9,197.8 279.1,190.1 277.4,188.9 275.5,188.7 272.9,190.1 271.8,191.4ZM202.6,272.6 200.2,272.5 198.2,273.8 197.3,276.0 196.6,284.4 196.9,286.3 198.0,287.8 199.7,288.7 201.6,288.7 208.4,286.9 210.3,285.7 211.3,283.6 211.0,281.4 208.6,275.9 207.6,274.6ZM323.2,215.0 323.6,217.2 325.1,218.9 327.2,219.5 329.4,218.8 334.5,215.5 335.9,213.9 336.2,211.7 335.4,209.7 333.7,208.4 329.3,206.7 326.9,206.5 324.8,207.8 323.8,209.9Z"/>
<path fill="#f386ca" d="M226.5,171.5 228.4,172.3 230.4,172.1 232.1,170.9 237.2,164.9 238.0,163.4 238.1,161.7 237.0,158.5 235.2,157.3 231.8,156.1 229.5,156.0 227.5,157.2 222.5,162.8 221.5,164.7 221.7,166.8 223.0,168.6ZM352.9,165.1 354.7,165.0 356.3,164.0 357.3,162.5 357.5,159.8 358.4,156.9 357.8,154.9 356.3,153.5 354.3,153.0 345.5,153.1 344.0,153.4 341.7,155.4 340.7,156.9 340.6,158.7 340.8,160.3 341.9,162.5 344.1,163.7ZM269.4,220.6 268.9,226.5 270.4,228.5 273.4,230.1 275.0,230.1 282.3,228.5 284.2,227.6 285.9,224.2 286.0,222.0 284.9,220.0 282.9,219.0 274.2,217.2 272.0,217.3 270.2,218.6ZM313.9,223.1 315.8,223.8 317.8,223.5 319.4,222.2 320.2,220.4 321.0,214.4 320.7,212.3 319.3,210.6 317.3,209.9 313.3,209.6 311.3,210.0 309.7,211.3 307.9,213.9 307.1,215.9 307.5,217.9 308.8,219.5ZM307.5,218.3 305.5,217.6 303.4,218.0 301.8,219.5 299.8,222.6 299.3,225.6 299.8,227.9 301.5,230.3 307.1,234.2 309.5,234.9 311.8,234.1 314.6,232.0 316.1,229.7 316.5,227.8 316.4,225.4 314.9,223.6ZM335.0,185.2 334.5,187.0 334.8,188.8 335.9,190.3 337.6,191.1 345.6,192.8 353.3,192.5 355.1,192.0 356.5,190.8 357.1,189.1 358.1,181.6 357.2,179.8 355.5,178.7 344.3,175.1 342.5,174.9 340.8,175.6 339.6,176.9ZM317.5,234.3 313.0,238.2 312.5,240.2 313.1,242.2 315.1,245.6 316.9,247.2 319.2,247.4 321.9,246.4 323.1,244.8 324.7,240.6 325.0,238.8 324.4,237.1 321.3,234.6 319.4,234.0ZM242.9,277.0 244.9,276.6 246.5,275.2 247.2,273.3 247.8,265.9 247.5,264.0 246.3,262.5 244.5,261.7 242.6,261.8 238.6,263.0 236.8,264.2 235.9,266.0 236.0,268.1 238.1,274.2 239.4,276.1ZM301.7,291.4 301.0,293.4 301.5,295.5 303.0,297.0 305.0,297.6 311.5,297.6 313.4,297.1 314.9,295.8 315.5,293.9 315.2,292.0 313.9,290.4 312.1,289.6 306.2,288.8 304.0,289.0Z"/>
<path fill="#f083c7" d="M217.0,183.2 218.7,184.1 220.5,184.1 223.7,182.9 224.8,181.5 227.4,175.9 227.8,174.2 227.4,172.4 226.3,171.1 222.2,167.7 220.1,166.8 217.9,167.2 216.2,168.7 212.4,175.0 211.9,176.8 212.2,178.6 213.3,180.1ZM247.2,154.0 245.4,153.1 243.4,153.1 241.7,154.0 238.9,156.7 237.8,158.3 237.9,162.0 239.5,164.5 242.7,167.0 244.5,167.8 246.5,167.6 251.3,165.9 253.0,164.7 253.9,162.9 253.8,160.9 252.7,159.2ZM256.8,168.2 255.6,166.4 253.7,165.4 251.6,165.5 247.3,167.1 245.8,168.0 244.9,169.5 244.7,171.2 245.1,176.2 245.9,178.2 247.5,179.5 249.6,179.8 255.7,179.0 257.8,178.0 259.1,176.0 258.9,173.6ZM301.4,156.4 299.2,156.0 297.0,156.9 295.8,158.9 295.9,161.2 297.4,166.0 298.4,167.6 300.1,168.6 303.2,169.5 305.0,169.6 306.7,168.9 307.9,167.6 309.3,164.9 309.8,162.8 309.2,160.8 307.6,159.4ZM298.8,254.1 296.0,256.6 295.6,258.7 296.3,260.7 298.6,264.1 299.9,265.3 301.5,265.8 306.4,266.3 308.5,266.0 310.1,264.6 313.4,259.2 313.1,256.3 312.4,254.7 311.0,253.6 304.7,250.6 302.9,250.2 301.1,250.6 299.7,251.9ZM339.2,204.6 339.6,206.6 341.0,208.2 342.9,208.8 348.0,209.2 349.8,208.9 351.3,207.8 352.2,206.2 353.4,201.2 353.4,199.2 352.4,197.5 350.8,196.4 344.4,194.7 342.1,194.8 340.3,196.2 339.5,198.4ZM375.3,213.5 372.9,213.9 371.2,215.4 370.7,217.7 371.0,223.6 371.7,225.7 373.5,227.1 375.7,227.3 379.3,226.7 381.0,226.0 382.2,224.5 382.6,220.5 381.9,218.3 378.9,214.4ZM328.6,276.6 327.7,278.8 328.3,281.1 330.0,282.7 336.5,285.7 338.3,286.1 340.1,285.6 341.5,284.3 344.3,280.0 345.0,277.6 344.1,275.3 340.4,270.9 338.8,269.7 336.8,269.5 334.9,270.2 332.3,272.2Z"/>
<path fill="#f285c9" d="M210.4,155.0 210.2,157.3 211.3,159.3 216.0,164.0 217.9,165.1 220.0,165.0 221.8,163.9 227.5,157.6 228.5,155.3 228.0,152.9 227.3,151.6 226.1,150.4 224.5,149.7 222.7,149.8 213.0,152.6 211.5,153.5ZM261.1,197.2 263.4,196.6 265.0,194.8 266.1,191.1 265.6,189.4 261.0,180.7 259.3,179.1 256.9,178.7 246.9,180.0 244.6,181.0 243.7,181.9 242.6,183.8 242.7,186.6 246.1,194.2 247.5,195.9 249.5,196.6ZM245.9,201.4 244.4,202.5 243.5,204.2 243.5,206.1 244.4,207.8 248.8,212.9 250.4,214.0 252.4,214.2 254.2,213.5 255.5,212.0 258.5,205.5 258.9,203.5 258.2,201.6 256.8,200.3 254.9,199.8ZM265.7,173.8 264.2,175.1 263.5,177.0 264.0,179.7 267.2,186.0 268.8,187.6 271.0,188.1 273.2,187.4 275.7,185.5 277.0,183.7 277.2,181.6 276.0,174.6 275.2,172.9 273.9,171.7 272.1,171.3 270.3,171.7ZM198.7,229.3 196.9,230.5 196.0,232.3 196.2,234.4 197.9,239.3 199.9,241.6 202.1,242.2 203.8,241.9 208.6,239.6 210.2,238.3 210.9,236.4 210.5,234.3 208.3,229.7 207.1,228.2 205.3,227.5 203.4,227.7ZM300.7,204.4 298.2,205.4 297.0,207.1 296.7,209.3 297.6,211.2 301.0,215.2 303.1,216.5 305.4,216.4 307.4,215.0 309.8,211.6 310.5,209.6 310.1,207.4 308.2,203.8 306.8,202.3 304.7,201.7 302.7,202.2ZM268.8,202.4 266.4,200.9 264.0,200.4 262.2,200.4 260.7,201.2 259.6,202.6 256.0,210.3 255.7,212.5 256.6,214.5 258.4,215.8 262.5,217.1 264.8,217.1 266.8,215.9 267.7,213.8 269.6,205.9 269.6,204.1ZM305.3,180.1 305.0,182.4 306.1,184.5 308.1,185.6 313.8,186.9 317.6,187.2 319.7,186.7 321.3,185.2 321.8,183.0 321.6,178.7 321.1,176.8 319.7,175.4 317.8,174.9 310.4,174.7 308.1,175.3 306.6,177.1ZM295.7,208.6 294.0,207.4 291.9,207.3 290.0,208.2 288.8,210.0 286.7,217.2 286.6,219.4 287.8,221.3 289.7,222.3 296.4,223.6 298.8,223.3 300.6,221.8 301.7,220.0 302.3,217.6 301.4,215.3ZM274.9,206.1 273.2,206.7 272.0,207.9 271.3,209.6 270.9,212.9 271.2,214.9 272.3,216.5 274.1,217.3 282.5,219.1 284.4,219.0 286.1,218.0 287.1,216.4 288.3,212.4 288.4,210.6 287.7,208.9 286.3,207.7 284.5,207.2 277.2,206.0ZM214.6,283.8 212.6,284.6 211.3,286.4 211.2,288.5 212.3,294.4 213.1,296.0 214.5,297.2 216.2,297.6 222.3,297.6 224.2,297.1 225.7,295.7 226.2,293.7 225.8,291.7 224.4,289.2 222.2,287.1 221.0,284.7 219.5,283.6 217.6,283.4ZM334.7,233.2 334.6,235.1 335.4,236.8 336.9,238.0 344.5,241.6 346.5,242.0 348.4,241.3 349.8,239.8 350.2,237.8 349.8,228.9 349.2,227.0 347.8,225.6 345.7,225.1 343.3,225.7 336.6,230.2ZM299.6,282.0 301.6,282.8 303.7,282.5 305.4,281.2 310.3,274.6 311.1,272.6 310.7,270.5 309.7,268.4 308.4,266.8 306.5,266.1 302.2,265.7 300.0,266.1 298.4,267.5 294.7,273.3 294.0,275.2 294.4,277.1 295.5,278.6ZM358.3,211.2 358.2,213.0 359.0,214.7 360.5,215.8 362.3,216.1 368.9,215.9 371.1,215.1 372.5,213.3 372.7,211.0 371.7,206.7 371.0,205.1 369.6,204.0 365.6,202.0 363.2,201.6 361.1,202.6 359.9,204.6ZM327.7,261.4 329.7,261.2 331.4,260.0 332.2,258.2 332.1,256.2 331.0,254.5 323.7,248.0 322.1,247.1 320.3,247.0 316.7,248.1 315.6,249.3 313.3,253.2 312.9,256.0 314.2,258.7 316.3,259.7ZM358.8,243.7 356.3,251.8 356.5,253.8 357.7,255.4 359.5,256.3 361.5,256.2 368.6,253.8 370.1,252.9 371.4,250.5 371.6,248.1 370.4,246.0 365.3,241.6 363.5,240.8 361.5,240.9 359.8,241.9ZM360.6,216.0 358.8,216.5 357.4,217.8 356.8,219.5 358.3,230.0 359.3,232.1 361.3,233.3 363.7,233.1 368.1,231.5 370.6,229.2 371.3,226.6 371.0,219.5 370.3,217.6 368.8,216.2 366.8,215.8ZM352.7,290.9 351.7,293.0 352.0,295.2 353.5,297.0 355.7,297.6 361.1,297.6 363.2,297.0 365.2,294.2 365.6,292.2 364.9,290.3 363.4,289.0 360.0,287.3 357.5,286.9 355.3,288.1Z"/>
<path fill="#f082c7" d="M252.1,149.4 250.2,149.8 248.8,151.1 248.1,152.9 248.3,154.7 249.3,156.3 251.8,158.6 253.8,159.6 256.7,159.3 258.8,160.2 260.5,160.1 263.0,158.7 264.1,157.2 264.4,155.3 263.9,153.5 262.6,152.2 259.1,150.0 257.0,149.4ZM206.5,158.3 205.0,159.1 204.0,160.5 201.7,166.8 202.0,168.3 204.8,175.3 206.4,177.2 208.6,177.9 210.6,177.4 212.1,176.0 216.5,168.6 217.1,166.9 216.9,165.1 215.9,163.7 211.3,159.0 209.4,158.0ZM234.7,209.9 238.0,221.0 239.5,222.3 241.4,222.6 243.3,222.0 248.2,218.9 249.7,217.2 250.0,215.0 249.1,212.9 242.9,205.8 241.1,204.6 237.6,204.9 235.8,206.0 234.7,207.8ZM220.6,253.8 218.7,253.1 216.8,253.4 215.2,254.6 212.1,258.0 211.5,259.7 211.7,261.4 213.3,266.0 214.6,267.7 216.5,268.6 220.3,269.2 222.3,268.9 224.0,267.7 224.8,265.8 225.3,262.4 224.5,257.7 222.9,255.3ZM278.8,253.5 278.6,255.6 279.5,257.5 281.2,258.7 283.3,258.8 288.0,257.9 289.7,257.0 290.9,255.5 291.2,253.6 290.6,251.8 286.7,248.0 283.2,247.3 281.3,248.1 280.1,249.8ZM364.9,183.9 364.9,186.0 365.8,187.7 367.5,188.8 377.3,192.1 379.2,192.2 380.9,191.5 382.2,190.1 382.6,185.9 381.2,180.0 379.5,177.6 375.0,174.7 372.8,174.1 370.4,174.1 368.4,174.6 366.9,176.0ZM341.4,208.5 339.5,208.9 337.9,210.1 337.1,212.2 337.7,215.0 342.1,221.7 343.5,223.0 345.4,223.5 347.2,223.1 348.7,221.8 349.4,220.0 350.4,213.5 350.2,211.4 348.8,209.7 346.7,208.9Z"/>
<path fill="#f183c8" d="M260.8,171.6 262.1,173.4 264.1,174.2 266.3,173.8 271.0,171.6 272.5,170.3 273.2,168.5 273.0,166.6 270.6,159.9 269.6,158.3 267.9,157.4 265.2,157.2 263.5,158.0 260.0,160.8 258.8,162.5 258.6,164.7 259.2,167.2ZM229.3,197.7 229.4,199.7 230.4,201.4 232.0,202.4 234.0,202.5 238.3,201.6 244.1,199.5 245.8,198.2 246.6,196.2 246.3,194.1 243.7,188.4 242.6,186.8 240.8,186.1 238.9,186.2 233.5,187.9 231.7,189.0 230.8,190.9ZM206.8,199.7 204.6,200.1 203.0,201.5 202.3,203.6 202.9,205.8 206.4,211.6 207.8,213.0 209.8,213.6 211.8,213.1 214.4,211.2 215.1,209.8 216.4,205.2 216.3,202.8 215.0,200.9 212.8,200.1ZM195.9,224.8 196.3,226.7 197.6,228.1 199.3,228.8 201.2,228.6 205.1,227.3 206.6,226.4 207.5,225.0 208.2,223.3 208.3,220.1 207.5,218.5 206.1,217.4 204.4,217.0 199.9,217.0 197.9,217.5 196.4,219.0 195.9,221.0ZM312.4,160.7 310.4,162.5 307.0,168.8 306.6,170.3 306.8,172.2 308.2,174.1 310.5,174.9 317.1,175.1 319.3,174.5 320.8,172.8 321.1,170.6 320.2,163.0 319.2,160.8 317.1,159.6 314.7,159.8ZM259.1,240.0 257.4,239.1 255.6,239.2 252.7,240.3 251.6,241.8 251.4,243.7 252.1,255.1 253.6,256.8 255.8,257.5 262.1,257.5 264.2,256.9 265.6,255.4 266.1,253.3 265.9,247.5 265.5,246.0 264.5,244.6ZM317.7,210.2 319.7,209.8 321.2,208.5 322.0,206.7 322.9,199.3 322.9,195.9 322.3,193.9 320.8,192.4 318.7,191.9 312.6,192.1 310.9,192.5 309.6,193.6 307.0,196.8 306.2,198.9 306.6,201.1 310.0,207.7 311.3,209.2 313.3,209.9ZM377.2,149.4 375.4,149.9 373.9,151.2 373.3,153.0 373.5,154.9 374.6,156.5 376.4,157.3 377.7,157.6 380.1,157.4 381.9,155.9 382.6,153.7 382.1,151.4 380.6,149.9ZM216.1,268.4 214.3,268.5 212.8,269.4 209.7,272.4 208.5,274.6 208.8,276.9 210.9,281.6 212.6,283.5 215.1,283.9 219.4,283.4 221.0,282.8 222.3,281.6 222.9,280.0 223.7,273.5 223.5,271.4 222.2,269.8 220.3,269.0ZM282.8,240.7 281.8,242.4 281.7,244.4 282.6,246.1 284.2,247.3 286.8,248.3 288.3,248.5 289.8,248.2 292.8,246.9 294.5,245.4 295.2,243.3 294.6,241.1 292.6,237.9 290.8,236.3 288.4,236.1 286.3,237.2ZM321.9,224.9 319.8,232.0 320.4,233.7 321.6,235.0 324.5,236.8 327.3,237.4 331.6,236.7 333.5,235.8 334.9,233.2 335.0,231.1 334.0,229.3 328.6,223.5 326.8,222.4 324.8,222.3 323.0,223.2Z"/>
<path fill="#f488cb" d="M202.7,149.4 200.7,150.0 199.2,151.5 198.7,153.5 199.3,155.5 200.8,156.9 204.9,158.7 207.8,158.1 209.3,157.2 210.7,154.9 210.9,153.0 210.3,151.2 208.8,149.9 207.0,149.4ZM215.9,193.3 215.8,195.2 216.7,197.0 218.2,198.1 224.0,200.4 225.1,200.7 227.0,200.5 228.7,199.4 229.5,197.6 230.9,191.1 230.7,188.9 229.4,187.1 225.5,184.2 223.9,183.4 220.7,183.8 218.9,184.8 217.8,186.6ZM203.4,193.8 202.0,192.3 200.0,191.7 198.0,192.2 196.5,193.7 195.9,195.7 196.4,198.8 197.8,200.2 199.8,200.8 201.8,200.3 203.6,198.5 204.2,196.5ZM287.8,172.6 289.7,173.8 291.9,173.9 293.8,172.7 296.6,169.7 297.6,167.8 297.5,165.7 295.5,159.4 294.0,157.4 290.7,156.7 288.4,157.5 287.0,159.5 284.9,166.4 284.8,168.4 285.7,170.2ZM218.8,245.0 218.7,241.4 217.7,239.9 213.5,238.2 210.7,238.4 204.7,241.2 202.8,243.0 202.4,245.4 203.5,253.0 204.2,254.6 205.4,255.8 207.6,256.4 210.2,255.8 211.5,254.9 217.9,247.2ZM203.6,171.9 202.3,170.1 200.2,169.4 198.1,169.8 196.5,171.3 195.9,173.4 196.6,176.0 198.5,177.5 200.8,177.7 202.9,176.5 204.0,174.5ZM339.2,216.9 337.7,215.5 335.7,215.1 333.7,215.8 329.9,218.3 328.4,220.0 328.1,222.3 329.1,224.4 333.2,228.7 334.7,229.7 336.6,229.9 338.3,229.3 341.3,227.3 342.6,225.8 343.0,223.8 342.4,221.8ZM272.9,287.2 271.5,288.4 270.7,290.1 270.9,291.9 271.8,293.5 275.8,297.3 282.1,297.6 284.3,296.9 285.8,295.1 286.5,293.4 286.5,290.4 284.7,286.1 283.4,284.3 281.4,283.6 279.2,284.0ZM373.4,265.4 372.7,267.1 372.8,269.0 374.2,271.0 373.9,274.3 375.0,276.4 377.7,277.7 380.1,277.5 381.9,276.0 382.6,273.8 382.6,265.1 382.0,262.9 380.2,261.5 377.8,261.2 376.4,261.7 375.2,262.8Z"/>
<path fill="#f487cb" d="M233.2,174.8 231.0,173.9 228.7,174.5 227.1,176.2 225.2,180.2 224.8,182.0 225.2,183.7 226.4,185.1 229.7,187.5 231.4,188.3 233.3,188.2 238.1,186.6 239.9,185.5 240.8,183.5 240.6,181.4 239.3,179.7ZM203.3,206.2 201.9,204.7 199.9,204.2 197.9,204.8 196.4,206.2 195.9,208.2 195.9,213.2 196.4,215.2 197.9,216.7 199.9,217.2 202.9,217.2 204.9,216.7 206.4,215.2 206.9,213.2 206.3,211.1ZM300.5,168.5 298.3,168.5 296.4,169.6 291.9,174.5 291.0,175.9 290.9,178.3 291.7,180.4 293.4,181.7 296.3,182.6 301.5,182.9 303.8,182.3 305.4,180.5 307.3,176.1 307.4,173.3 307.1,172.2 306.0,170.6 304.4,169.6ZM276.6,179.0 277.5,180.9 279.2,182.1 281.3,182.2 287.4,181.0 289.3,180.1 290.4,178.3 290.6,176.3 289.7,174.4 286.0,170.2 284.2,169.0 282.1,168.9 278.8,169.6 277.0,170.6 275.9,172.2 275.7,174.2ZM327.3,168.9 325.4,169.6 324.1,171.1 323.7,173.1 324.2,182.5 325.2,186.0 326.0,187.6 327.4,188.6 330.9,188.9 332.9,188.3 334.3,186.9 340.5,175.7 341.0,174.2 340.8,172.6 339.4,169.3 337.9,168.3 336.1,168.1ZM261.4,236.0 260.1,237.9 260.1,240.2 261.3,242.1 263.8,244.2 265.9,245.2 268.1,244.8 272.7,242.5 274.5,240.7 274.9,238.2 273.7,231.9 271.8,229.2 269.6,228.5 267.4,229.1 265.8,230.8 264.8,233.1ZM240.2,223.8 238.9,225.1 238.3,226.9 238.6,228.7 239.7,230.2 242.6,232.7 248.7,237.3 250.3,238.0 252.1,237.9 255.7,236.7 256.7,235.5 257.6,232.9 257.2,231.1 252.6,221.2 251.1,219.6 249.0,218.9 246.8,219.6ZM265.9,253.6 266.5,255.6 268.0,257.0 273.6,258.0 275.5,258.0 277.1,257.1 278.2,255.5 281.2,247.6 281.4,245.6 280.6,243.8 279.0,242.5 275.4,241.4 273.7,241.8 268.0,244.6 266.3,246.2 265.8,248.4ZM229.2,257.0 228.5,258.7 228.7,260.5 229.6,262.1 233.5,264.0 236.1,264.0 246.2,260.9 248.0,259.7 248.9,257.7 248.8,255.8 247.7,252.4 246.8,250.9 245.4,250.0 243.7,249.7 236.0,250.2 234.3,250.7 233.0,251.8ZM334.0,208.7 335.8,209.0 337.6,208.4 338.9,207.0 339.4,205.2 339.8,197.0 339.5,195.2 338.4,193.7 335.5,192.6 328.8,193.0 326.9,193.7 325.6,195.1 325.1,197.0 325.0,203.7 325.9,205.2 327.4,206.2ZM232.1,263.2 229.8,263.1 227.8,264.3 226.8,266.4 225.6,274.7 225.9,276.7 227.1,278.4 229.0,279.2 234.8,279.6 236.9,278.4 238.3,276.4 238.2,274.0 235.5,266.1 234.6,264.5ZM199.4,291.9 199.8,295.5 201.2,297.0 203.3,297.6 208.3,297.6 210.5,296.9 212.0,295.1 212.2,292.8 211.7,290.2 210.7,288.3 208.9,287.1 206.8,287.1 202.4,288.2 200.3,289.6ZM378.7,198.7 379.8,197.0 380.0,194.9 379.1,193.0 377.3,191.9 368.6,189.0 366.3,188.9 364.4,190.1 363.4,192.2 362.1,196.7 362.0,198.6 362.7,200.3 364.2,201.5 368.9,203.8 371.1,204.2 373.3,203.3ZM224.0,286.8 224.3,289.4 226.2,292.9 227.5,294.4 229.3,295.0 231.3,294.7 234.0,293.6 235.4,292.6 236.3,291.0 236.4,289.3 235.4,282.7 234.3,280.5 232.0,279.4 229.1,279.0 227.0,279.2 225.4,280.5 224.6,282.4ZM270.9,290.3 270.7,288.3 269.6,286.7 264.7,282.4 262.4,281.4 260.0,282.0 256.5,284.1 255.1,285.5 254.6,287.4 255.1,289.4 258.2,295.4 259.7,297.0 261.8,297.6 264.8,296.7 269.4,293.1ZM363.9,232.8 362.2,234.0 361.4,235.9 361.5,237.9 362.7,239.6 370.5,246.4 372.5,247.3 374.7,247.1 377.5,245.3 378.2,243.2 378.4,240.8 378.1,238.9 377.0,237.4 371.0,232.4 369.1,231.5 367.0,231.7ZM353.1,273.0 353.3,275.2 354.6,277.0 356.7,277.8 358.8,277.3 363.6,274.9 365.0,273.6 365.7,271.7 365.4,269.7 364.1,268.2 360.5,265.4 358.6,264.7 356.7,264.9 355.0,266.0 354.2,267.8ZM304.1,282.7 303.3,284.6 303.6,286.6 304.8,288.2 306.7,289.0 314.3,290.2 316.6,289.9 318.3,288.4 318.9,286.5 319.9,279.5 319.4,277.0 317.6,275.3 314.6,273.9 312.8,273.5 311.1,274.0 309.7,275.1ZM320.8,289.4 318.4,289.5 316.5,290.9 315.8,293.1 316.2,295.5 317.7,297.0 319.7,297.6 323.3,297.0 324.8,295.3 325.1,293.1 324.2,291.0ZM368.4,287.1 368.0,289.2 368.7,291.2 370.3,292.6 375.2,294.4 379.9,292.8 381.8,291.1 382.3,288.6 381.3,281.0 380.3,278.8 378.2,277.6 376.8,277.3 375.1,277.3 373.5,278.0 372.4,279.3ZM371.9,274.0 370.4,272.9 368.7,272.5 366.9,273.0 357.9,277.6 356.4,278.9 355.7,280.7 356.7,284.6 358.6,286.8 363.1,289.1 365.1,289.5 367.1,288.9 368.5,287.3 372.8,279.0 373.2,276.8ZM348.0,277.5 346.1,277.9 344.6,279.3 340.3,285.7 339.7,288.6 340.6,291.6 341.8,292.8 344.5,294.5 347.0,295.1 350.4,293.8 355.8,287.8 356.8,285.9 356.6,283.7 355.4,280.5 353.8,278.5 351.1,277.5Z"/>
<path fill="#f588cc" d="M212.9,179.5 211.2,178.7 209.4,178.7 207.7,179.5 206.6,181.0 202.8,189.9 202.5,191.6 203.6,194.5 205.0,196.0 207.1,196.6 212.1,196.7 214.5,195.9 216.0,193.8 218.0,186.9 217.9,184.6 216.7,182.7ZM209.6,214.0 207.9,215.9 207.7,218.4 209.0,221.7 211.0,222.8 225.4,226.1 227.3,226.0 229.0,225.1 230.0,223.5 230.1,220.8 229.4,219.1 227.9,217.8 216.5,212.2 214.6,211.8 212.7,212.3ZM206.1,182.8 206.3,180.6 205.5,178.6 203.6,177.4 201.5,177.3 197.4,178.7 196.3,180.1 195.9,181.8 195.9,186.4 196.6,188.7 198.6,190.2 200.6,190.5 202.5,189.7 203.8,188.1ZM324.4,158.1 322.8,159.8 322.4,162.1 322.8,165.7 323.6,167.5 325.2,168.8 327.2,169.1 336.9,168.2 338.9,167.4 340.2,165.8 340.9,164.2 341.2,162.1 340.8,159.0 340.0,157.1 338.4,155.9 334.5,154.2 332.8,153.9 331.0,154.4ZM382.6,203.8 382.0,201.6 380.3,200.1 378.1,199.8 376.0,200.7 372.9,203.3 371.7,205.1 371.6,207.2 372.4,210.7 373.6,212.7 375.7,213.8 377.2,214.0 378.9,213.9 381.3,212.3 382.3,210.9 382.6,209.3ZM281.3,264.5 279.6,263.3 277.5,263.0 275.6,263.9 274.4,265.5 273.2,268.6 272.9,270.5 273.6,272.3 279.5,281.2 281.3,282.6 283.6,282.9 285.6,281.8 288.2,279.2 289.2,277.6 289.4,275.7 288.6,273.9Z"/>
<path fill="#f184c8" d="M268.0,149.4 266.2,149.9 264.7,151.1 264.1,152.9 264.3,154.9 265.4,156.5 267.1,157.4 268.4,157.8 271.2,157.5 273.8,155.6 274.4,153.5 273.9,151.5 272.4,150.0 270.4,149.4ZM366.8,156.6 365.0,158.4 364.7,160.9 367.1,172.4 368.6,173.8 370.5,174.3 373.8,173.9 375.2,172.8 381.3,165.5 382.2,163.4 381.8,161.2 380.0,158.3 378.4,157.5 370.4,155.8ZM374.8,259.6 376.5,261.0 378.7,261.3 381.0,260.4 382.2,259.0 382.6,257.2 382.6,250.5 382.1,248.5 379.6,246.5 377.9,246.0 373.9,247.2 372.6,248.1 371.0,251.1 370.7,253.1 371.4,255.0ZM367.2,267.3 369.2,268.1 371.2,267.8 372.9,266.5 374.7,263.9 375.5,261.5 374.7,259.2 372.0,255.4 370.0,254.0 367.5,254.0 362.2,255.7 360.6,256.7 359.6,258.4 359.6,260.4 360.5,262.1ZM340.7,265.6 339.6,267.3 339.5,269.3 340.4,271.1 344.6,276.2 346.0,277.3 349.1,277.7 350.8,277.3 352.2,276.1 353.0,274.5 355.4,262.6 355.4,260.8 354.3,258.9 352.4,257.7 350.2,257.7 347.7,259.2ZM333.9,247.0 334.6,249.2 336.3,250.7 338.6,251.0 340.8,250.6 342.7,249.8 345.0,247.9 346.2,246.3 346.4,244.3 345.7,242.5 344.2,241.2 339.7,239.1 337.7,238.7 335.9,239.3 334.5,240.8 334.0,242.7Z"/>
<path fill="#f589cc" d="M273.1,167.5 274.2,169.1 275.9,170.0 277.8,170.1 282.1,169.1 284.0,168.1 285.1,166.3 287.2,159.5 287.1,157.1 285.7,155.1 283.5,153.5 281.4,152.8 279.3,153.2 272.9,156.4 271.4,157.6 270.7,159.4 270.9,161.3ZM212.0,222.8 209.8,222.9 208.0,224.2 207.1,226.2 207.5,228.4 211.2,236.4 212.3,237.7 217.4,239.6 219.1,239.7 220.7,239.1 224.9,236.3 226.3,234.8 228.3,230.1 228.0,228.2 226.9,226.7 225.2,225.8ZM256.9,215.1 254.6,215.0 252.7,216.3 251.7,218.3 252.1,220.6 256.0,229.0 257.5,230.7 259.6,231.3 261.8,230.6 263.5,229.6 265.0,227.8 266.5,224.3 266.8,221.2 266.0,218.8 264.0,217.4ZM292.5,197.5 292.9,199.4 294.1,200.9 295.9,201.6 297.8,201.5 304.4,199.3 306.3,198.0 309.0,194.6 309.9,192.2 309.2,189.8 308.5,188.9 306.1,187.3 297.7,185.5 295.6,185.6 293.7,187.0 292.9,189.2ZM340.6,172.3 341.5,173.9 343.1,174.9 354.3,178.5 356.2,178.7 358.0,177.9 359.2,176.5 359.6,174.6 359.0,168.5 357.8,166.4 355.7,165.3 344.3,163.5 342.5,163.6 341.0,164.5 339.7,166.5 339.6,169.3ZM281.7,184.2 279.8,185.1 278.7,186.9 278.5,188.9 279.5,190.8 285.8,198.0 287.4,199.0 289.2,199.3 291.0,198.7 292.3,197.3 292.8,195.5 293.2,186.9 292.6,184.6 290.7,183.1 288.4,182.9ZM222.3,245.7 221.5,247.3 221.6,249.1 222.4,250.8 225.3,254.3 227.3,255.6 229.7,255.5 231.6,254.0 232.9,252.2 233.6,250.3 233.3,248.3 231.4,243.8 230.1,242.2 228.3,241.4 226.2,241.7 224.6,242.9ZM274.9,239.1 275.7,240.9 278.0,242.4 280.3,242.6 282.4,241.5 286.4,237.4 287.5,235.2 287.1,232.7 285.9,230.5 284.1,228.8 281.6,228.5 277.0,229.5 275.2,230.4 274.1,232.1 273.9,234.1ZM240.5,276.6 237.8,277.5 236.6,278.4 235.4,280.1 235.1,282.1 236.3,289.8 237.3,291.9 239.2,293.1 242.2,293.4 243.9,292.5 245.8,290.9 247.0,289.0 247.0,280.8 246.5,278.9 245.1,277.4 243.2,276.8ZM250.0,283.8 251.5,285.1 253.5,285.6 255.4,285.0 261.1,281.6 262.3,280.5 263.0,279.0 263.1,276.4 262.2,274.7 256.4,268.2 254.4,267.1 252.1,267.1 250.3,268.5 249.4,270.6 249.0,281.1ZM277.1,285.3 278.7,283.8 279.3,281.6 278.6,279.5 274.7,273.6 273.2,272.3 271.2,271.9 269.2,272.5 264.8,275.3 263.0,277.8 263.0,280.4 264.2,282.2 269.0,286.5 271.2,287.5 273.5,287.1ZM327.4,251.6 329.5,252.6 331.7,252.3 333.4,250.8 334.1,248.7 334.2,240.8 333.6,238.6 331.8,237.1 329.5,236.8 326.1,237.9 324.9,239.6 323.1,244.2 322.9,246.6 324.2,248.7ZM294.6,277.6 292.9,276.8 291.0,276.9 289.3,277.9 285.4,281.7 284.3,283.8 284.5,286.1 286.0,289.6 287.4,291.4 289.5,292.1 298.8,292.6 300.8,292.2 302.3,290.8 303.5,288.4 303.3,285.7 301.9,283.5ZM245.9,290.6 244.8,292.1 244.5,294.1 245.2,295.9 246.6,297.1 248.5,297.6 253.0,297.6 254.9,297.1 256.4,295.7 257.0,293.7 256.5,291.8 255.1,289.1 253.5,287.4 251.1,286.9 249.0,287.9ZM316.1,259.5 313.9,259.8 312.2,261.2 309.9,264.5 309.2,266.5 309.6,268.5 311.0,271.5 312.9,273.4 316.5,275.0 318.4,275.4 320.2,274.8 321.6,273.5 325.7,266.9 326.5,265.0 326.3,263.0 325.0,261.3 323.1,260.5ZM325.4,285.6 324.2,290.2 325.1,292.4 328.1,296.1 329.5,297.2 331.4,297.6 333.8,296.8 338.5,293.3 339.9,291.6 340.1,289.4 339.2,287.3 337.8,286.1 331.0,283.0 328.7,282.6 326.6,283.6ZM374.8,227.3 372.8,228.3 371.7,230.2 371.7,232.4 372.9,234.3 376.0,236.9 378.1,237.8 380.3,237.4 382.0,236.0 382.6,233.8 382.6,230.7 381.9,228.5 380.2,227.0 377.9,226.7ZM303.7,243.7 302.4,245.3 302.1,247.3 302.7,249.2 304.3,250.6 309.3,253.0 311.3,253.4 313.1,252.9 314.5,251.5 315.5,249.9 316.0,247.8 315.5,245.8 313.3,242.2 311.7,240.7 309.6,240.3 307.6,241.0Z"/>
<path fill="#f689cd" d="M302.5,150.0 300.9,151.5 300.4,153.6 301.0,155.7 302.6,157.1 309.5,160.6 311.1,161.0 314.4,160.1 315.9,159.1 316.7,157.6 316.7,154.7 315.2,152.1 312.8,150.2 310.3,149.4 304.7,149.4ZM243.9,249.9 246.2,249.0 247.5,246.9 248.6,242.9 248.5,240.5 247.2,238.6 236.4,230.7 234.5,230.1 232.5,230.4 230.3,232.6 229.0,235.0 228.5,236.7 228.9,238.5 233.0,247.9 234.5,249.7 236.9,250.3Z"/>
<path fill="#f68acd" d="M316.5,154.5 317.4,157.7 318.8,158.9 321.5,159.4 323.4,158.9 327.0,156.9 328.5,155.4 329.0,153.4 328.5,151.4 327.0,149.9 325.0,149.4 320.7,149.4 318.7,149.9 317.0,151.9ZM294.8,241.8 296.3,243.2 298.4,243.6 300.5,242.9 305.5,239.4 306.8,237.9 307.2,236.1 306.7,234.2 305.5,232.8 302.6,230.8 300.3,230.1 298.0,230.9 294.1,233.7 292.9,235.3 292.5,237.2 293.1,239.1ZM256.0,260.0 254.4,261.1 253.5,262.8 253.5,264.7 254.4,266.4 261.2,273.9 262.7,274.9 264.6,275.2 266.3,274.6 271.5,271.3 273.1,269.4 274.7,265.2 275.0,263.3 274.4,261.5 273.0,260.2 270.5,259.5 257.9,259.5ZM288.3,273.8 289.7,275.0 291.6,275.4 293.4,274.8 294.8,273.5 298.5,267.8 299.1,265.5 298.4,263.3 296.3,260.3 294.8,259.0 292.8,258.6 284.8,260.9 283.3,262.0 282.4,263.6 282.3,265.5 283.1,267.2Z"/>
<path fill="#f387ca" d="M290.0,222.1 288.1,222.2 286.5,223.2 285.5,224.8 284.7,228.0 287.2,233.4 288.8,235.0 291.0,235.5 293.1,234.7 298.3,230.9 299.6,229.1 299.8,226.9 298.6,224.5 296.6,223.4Z"/>
<path d="M249.3,150.1h1.3M238.7,179.6h1.3M244.3,198.8h1.3M229.9,188.6h1.3M263.6,153.7h1.3M227.6,204.4h1.3M219.2,224.6h1.3M263.2,229.2h1.3M196.9,176.8h1.3M298.9,168.5h1.3M286.8,171.9h1.3M308.8,193.7h1.3M358.7,172.4h1.3M237.4,204.9h1.3M207.0,273.9h1.3M264.0,200.5h1.3M244.4,220.7h1.3M280.4,244.8h1.3M197.2,275.0h1.3M327.1,206.3h1.3M293.5,207.5h1.3M353.9,192.2h1.3M206.1,297.6h1.3M259.7,259.5h1.3M312.6,257.6h1.3M210.8,289.7h1.3M232.3,279.8h1.3M338.7,204.1h1.3M275.7,263.6h1.3M343.3,225.6h1.3M268.4,286.2h1.3M246.9,289.2h1.3M360.9,235.5h1.3M374.9,260.2h1.3M367.4,267.7h1.3M284.2,261.0h1.3M357.2,226.6h1.3M382.0,233.2h1.3M372.4,293.6h1.3M344.9,223.5h1.3M353.4,289.5h1.3" stroke="#8a5cc0" stroke-width="1.0" stroke-linecap="round" opacity="0.8"/>
</g>
<text transform="translate(18.77,22.60) scale(1.008,1)" font-size="16.87" font-weight="bold" fill="#111" stroke="#111" stroke-width="0.35" >A</text>
<text transform="translate(100.78,31.50) scale(1.040,1)" font-size="8.73" font-weight="bold" fill="#111" stroke="#111" stroke-width="0.2" >WT</text>
<text transform="translate(193.80,31.71) scale(1.180,1)" font-size="8.76" font-weight="bold" fill="#111" stroke="#111" stroke-width="0.2" >PD-1 KO</text>
<text transform="translate(16.59,103.30) scale(1.011,1)" font-size="10.04" font-weight="bold" fill="#111" stroke="#111" stroke-width="0.2" >Con</text>
<text transform="translate(2.29,224.94) scale(1.082,1)" font-size="9.44" font-weight="bold" fill="#111" stroke="#111" stroke-width="0.2" >Cisplatin</text>
<text transform="translate(327.75,250.79) scale(0.931,1)" font-size="7.87" font-weight="normal" fill="#000" stroke="#000" stroke-width="0.25" >100μm</text>
<rect x="327.5" y="255.2" width="20.5" height="2.5" fill="#000"/>
<text transform="translate(375.96,16.20) scale(0.981,1)" font-size="15.71" font-weight="bold" fill="#111" stroke="#111" stroke-width="0.35" >B</text>
<line x1="411.20" y1="49.50" x2="411.20" y2="140.40" stroke="#444" stroke-width="1.2"/>
<line x1="410.60" y1="139.80" x2="546.80" y2="139.80" stroke="#444" stroke-width="1.2"/>
<line x1="407.60" y1="139.80" x2="411.20" y2="139.80" stroke="#444" stroke-width="1.1"/>
<text transform="translate(402.33,142.47) scale(0.920,1)" font-size="6.90" font-weight="bold" fill="#222" stroke="#222" stroke-width="0.15">0</text>
<line x1="407.60" y1="117.38" x2="411.20" y2="117.38" stroke="#444" stroke-width="1.1"/>
<text transform="translate(398.81,120.05) scale(0.920,1)" font-size="6.90" font-weight="bold" fill="#222" stroke="#222" stroke-width="0.15">10</text>
<line x1="407.60" y1="94.95" x2="411.20" y2="94.95" stroke="#444" stroke-width="1.1"/>
<text transform="translate(398.81,97.62) scale(0.920,1)" font-size="6.90" font-weight="bold" fill="#222" stroke="#222" stroke-width="0.15">20</text>
<line x1="407.60" y1="72.53" x2="411.20" y2="72.53" stroke="#444" stroke-width="1.1"/>
<text transform="translate(398.81,75.19) scale(0.920,1)" font-size="6.90" font-weight="bold" fill="#222" stroke="#222" stroke-width="0.15">30</text>
<line x1="407.60" y1="50.10" x2="411.20" y2="50.10" stroke="#444" stroke-width="1.1"/>
<text transform="translate(398.81,52.77) scale(0.920,1)" font-size="6.90" font-weight="bold" fill="#222" stroke="#222" stroke-width="0.15">40</text>
<line x1="420.40" y1="139.80" x2="420.40" y2="143.40" stroke="#444" stroke-width="1.1"/>
<line x1="434.94" y1="139.80" x2="434.94" y2="143.40" stroke="#444" stroke-width="1.1"/>
<line x1="449.48" y1="139.80" x2="449.48" y2="143.40" stroke="#444" stroke-width="1.1"/>
<line x1="464.02" y1="139.80" x2="464.02" y2="143.40" stroke="#444" stroke-width="1.1"/>
<line x1="478.56" y1="139.80" x2="478.56" y2="143.40" stroke="#444" stroke-width="1.1"/>
<line x1="493.10" y1="139.80" x2="493.10" y2="143.40" stroke="#444" stroke-width="1.1"/>
<line x1="507.64" y1="139.80" x2="507.64" y2="143.40" stroke="#444" stroke-width="1.1"/>
<line x1="522.18" y1="139.80" x2="522.18" y2="143.40" stroke="#444" stroke-width="1.1"/>
<line x1="536.72" y1="139.80" x2="536.72" y2="143.40" stroke="#444" stroke-width="1.1"/>
<text transform="translate(422.80,152.60) rotate(-45) scale(0.86,1)" font-size="7.6" font-weight="bold" text-anchor="end" fill="#222" stroke="#222" stroke-width="0.25">500–999</text>
<text transform="translate(437.34,152.60) rotate(-45) scale(0.86,1)" font-size="7.6" font-weight="bold" text-anchor="end" fill="#222" stroke="#222" stroke-width="0.25">1000–1499</text>
<text transform="translate(451.88,152.60) rotate(-45) scale(0.86,1)" font-size="7.6" font-weight="bold" text-anchor="end" fill="#222" stroke="#222" stroke-width="0.25">1500–1999</text>
<text transform="translate(466.42,152.60) rotate(-45) scale(0.86,1)" font-size="7.6" font-weight="bold" text-anchor="end" fill="#222" stroke="#222" stroke-width="0.25">2000–2499</text>
<text transform="translate(480.96,152.60) rotate(-45) scale(0.86,1)" font-size="7.6" font-weight="bold" text-anchor="end" fill="#222" stroke="#222" stroke-width="0.25">2500–2999</text>
<text transform="translate(495.50,152.60) rotate(-45) scale(0.86,1)" font-size="7.6" font-weight="bold" text-anchor="end" fill="#222" stroke="#222" stroke-width="0.25">3000–3499</text>
<text transform="translate(510.04,152.60) rotate(-45) scale(0.86,1)" font-size="7.6" font-weight="bold" text-anchor="end" fill="#222" stroke="#222" stroke-width="0.25">3500–3999</text>
<text transform="translate(524.58,152.60) rotate(-45) scale(0.86,1)" font-size="7.6" font-weight="bold" text-anchor="end" fill="#222" stroke="#222" stroke-width="0.25">4000–4499</text>
<text transform="translate(539.12,152.60) rotate(-45) scale(0.86,1)" font-size="7.6" font-weight="bold" text-anchor="end" fill="#222" stroke="#222" stroke-width="0.25">4500–5000</text>
<text transform="translate(427.94,187.40) scale(1.117,1)" font-size="10.20" font-weight="bold" fill="#111" stroke="#111" stroke-width="0.2" >Cross section</text>
<text transform="translate(405.16,200.33) scale(0.962,1)" font-size="11.90" font-weight="bold" fill="#111">area distribution (μm<tspan font-size="0.75em" dy="-0.5em">2</tspan><tspan dy="0.375em">)</tspan></text>
<text transform="translate(394.11,162.94) rotate(-90) scale(1.083,1)" font-size="10.08" font-weight="bold" fill="#111" stroke="#111" stroke-width="0.2">Distribution Frequency(%)</text>
<line x1="420.40" y1="68.49" x2="420.40" y2="98.54" stroke="#ff7070" stroke-width="1.0"/>
<line x1="418.40" y1="68.49" x2="422.40" y2="68.49" stroke="#ff7070" stroke-width="1.0"/>
<line x1="418.40" y1="98.54" x2="422.40" y2="98.54" stroke="#ff7070" stroke-width="1.0"/>
<line x1="434.94" y1="58.17" x2="434.94" y2="69.39" stroke="#ff7070" stroke-width="1.0"/>
<line x1="432.94" y1="58.17" x2="436.94" y2="58.17" stroke="#ff7070" stroke-width="1.0"/>
<line x1="432.94" y1="69.39" x2="436.94" y2="69.39" stroke="#ff7070" stroke-width="1.0"/>
<line x1="449.48" y1="98.99" x2="449.48" y2="105.27" stroke="#ff7070" stroke-width="1.0"/>
<line x1="447.48" y1="98.99" x2="451.48" y2="98.99" stroke="#ff7070" stroke-width="1.0"/>
<line x1="447.48" y1="105.27" x2="451.48" y2="105.27" stroke="#ff7070" stroke-width="1.0"/>
<line x1="464.02" y1="111.77" x2="464.02" y2="120.29" stroke="#ff7070" stroke-width="1.0"/>
<line x1="462.02" y1="111.77" x2="466.02" y2="111.77" stroke="#ff7070" stroke-width="1.0"/>
<line x1="462.02" y1="120.29" x2="466.02" y2="120.29" stroke="#ff7070" stroke-width="1.0"/>
<line x1="478.56" y1="120.96" x2="478.56" y2="128.59" stroke="#ff7070" stroke-width="1.0"/>
<line x1="476.56" y1="120.96" x2="480.56" y2="120.96" stroke="#ff7070" stroke-width="1.0"/>
<line x1="476.56" y1="128.59" x2="480.56" y2="128.59" stroke="#ff7070" stroke-width="1.0"/>
<line x1="493.10" y1="125.67" x2="493.10" y2="139.13" stroke="#ff7070" stroke-width="1.0"/>
<line x1="491.10" y1="125.67" x2="495.10" y2="125.67" stroke="#ff7070" stroke-width="1.0"/>
<line x1="491.10" y1="139.13" x2="495.10" y2="139.13" stroke="#ff7070" stroke-width="1.0"/>
<line x1="507.64" y1="132.62" x2="507.64" y2="141.15" stroke="#ff7070" stroke-width="1.0"/>
<line x1="505.64" y1="132.62" x2="509.64" y2="132.62" stroke="#ff7070" stroke-width="1.0"/>
<line x1="505.64" y1="141.15" x2="509.64" y2="141.15" stroke="#ff7070" stroke-width="1.0"/>
<line x1="420.40" y1="131.95" x2="420.40" y2="134.64" stroke="#50ee50" stroke-width="1.0"/>
<line x1="418.40" y1="131.95" x2="422.40" y2="131.95" stroke="#50ee50" stroke-width="1.0"/>
<line x1="418.40" y1="134.64" x2="422.40" y2="134.64" stroke="#50ee50" stroke-width="1.0"/>
<line x1="434.94" y1="107.06" x2="434.94" y2="119.17" stroke="#50ee50" stroke-width="1.0"/>
<line x1="432.94" y1="107.06" x2="436.94" y2="107.06" stroke="#50ee50" stroke-width="1.0"/>
<line x1="432.94" y1="119.17" x2="436.94" y2="119.17" stroke="#50ee50" stroke-width="1.0"/>
<line x1="449.48" y1="107.96" x2="449.48" y2="117.38" stroke="#50ee50" stroke-width="1.0"/>
<line x1="447.48" y1="107.96" x2="451.48" y2="107.96" stroke="#50ee50" stroke-width="1.0"/>
<line x1="447.48" y1="117.38" x2="451.48" y2="117.38" stroke="#50ee50" stroke-width="1.0"/>
<line x1="464.02" y1="93.60" x2="464.02" y2="110.65" stroke="#50ee50" stroke-width="1.0"/>
<line x1="462.02" y1="93.60" x2="466.02" y2="93.60" stroke="#50ee50" stroke-width="1.0"/>
<line x1="462.02" y1="110.65" x2="466.02" y2="110.65" stroke="#50ee50" stroke-width="1.0"/>
<line x1="478.56" y1="81.72" x2="478.56" y2="94.28" stroke="#50ee50" stroke-width="1.0"/>
<line x1="476.56" y1="81.72" x2="480.56" y2="81.72" stroke="#50ee50" stroke-width="1.0"/>
<line x1="476.56" y1="94.28" x2="480.56" y2="94.28" stroke="#50ee50" stroke-width="1.0"/>
<line x1="493.10" y1="97.64" x2="493.10" y2="109.30" stroke="#50ee50" stroke-width="1.0"/>
<line x1="491.10" y1="97.64" x2="495.10" y2="97.64" stroke="#50ee50" stroke-width="1.0"/>
<line x1="491.10" y1="109.30" x2="495.10" y2="109.30" stroke="#50ee50" stroke-width="1.0"/>
<line x1="507.64" y1="109.08" x2="507.64" y2="124.33" stroke="#50ee50" stroke-width="1.0"/>
<line x1="505.64" y1="109.08" x2="509.64" y2="109.08" stroke="#50ee50" stroke-width="1.0"/>
<line x1="505.64" y1="124.33" x2="509.64" y2="124.33" stroke="#50ee50" stroke-width="1.0"/>
<line x1="522.18" y1="129.48" x2="522.18" y2="132.18" stroke="#50ee50" stroke-width="1.0"/>
<line x1="520.18" y1="129.48" x2="524.18" y2="129.48" stroke="#50ee50" stroke-width="1.0"/>
<line x1="520.18" y1="132.18" x2="524.18" y2="132.18" stroke="#50ee50" stroke-width="1.0"/>
<polyline points="420.40,83.51 434.94,63.78 449.48,102.13 464.02,116.03 478.56,124.78 493.10,132.40 507.64,136.88 522.18,139.80 536.72,139.80" fill="none" stroke="#ff2020" stroke-width="1.3"/>
<polyline points="420.40,133.30 434.94,113.11 449.48,112.67 464.02,102.13 478.56,88.00 493.10,103.47 507.64,116.70 522.18,130.83 536.72,139.13" fill="none" stroke="#22dd22" stroke-width="1.7"/>
<polygon points="418.25,85.36 422.55,85.36 420.40,81.06" stroke="#000" stroke-width="1.1" fill="#e02020" stroke-linejoin="miter"/>
<polygon points="432.79,65.63 437.09,65.63 434.94,61.33" stroke="#000" stroke-width="1.1" fill="#e02020" stroke-linejoin="miter"/>
<polygon points="447.33,103.98 451.63,103.98 449.48,99.68" stroke="#000" stroke-width="1.1" fill="#e02020" stroke-linejoin="miter"/>
<polygon points="461.87,117.88 466.17,117.88 464.02,113.58" stroke="#000" stroke-width="1.1" fill="#e02020" stroke-linejoin="miter"/>
<polygon points="476.41,126.63 480.71,126.63 478.56,122.33" stroke="#000" stroke-width="1.1" fill="#e02020" stroke-linejoin="miter"/>
<polygon points="490.95,134.25 495.25,134.25 493.10,129.95" stroke="#000" stroke-width="1.1" fill="#e02020" stroke-linejoin="miter"/>
<polygon points="505.49,138.73 509.79,138.73 507.64,134.43" stroke="#000" stroke-width="1.1" fill="#e02020" stroke-linejoin="miter"/>
<polygon points="520.03,141.65 524.33,141.65 522.18,137.35" stroke="#000" stroke-width="1.1" fill="#e02020" stroke-linejoin="miter"/>
<polygon points="534.57,141.65 538.87,141.65 536.72,137.35" stroke="#000" stroke-width="1.1" fill="#e02020" stroke-linejoin="miter"/>
<circle cx="420.40" cy="133.30" r="2.1" stroke="#000" stroke-width="1.2" fill="#44dd44"/>
<circle cx="434.94" cy="113.11" r="2.1" stroke="#000" stroke-width="1.2" fill="#44dd44"/>
<circle cx="449.48" cy="112.67" r="2.1" stroke="#000" stroke-width="1.2" fill="#44dd44"/>
<circle cx="464.02" cy="102.13" r="2.1" stroke="#000" stroke-width="1.2" fill="#44dd44"/>
<circle cx="478.56" cy="88.00" r="2.1" stroke="#000" stroke-width="1.2" fill="#44dd44"/>
<circle cx="493.10" cy="103.47" r="2.1" stroke="#000" stroke-width="1.2" fill="#44dd44"/>
<circle cx="507.64" cy="116.70" r="2.1" stroke="#000" stroke-width="1.2" fill="#44dd44"/>
<circle cx="522.18" cy="130.83" r="2.1" stroke="#000" stroke-width="1.2" fill="#44dd44"/>
<circle cx="536.72" cy="139.13" r="2.1" stroke="#000" stroke-width="1.2" fill="#44dd44"/>
<line x1="440.20" y1="28.30" x2="464.50" y2="28.30" stroke="#1cc44a" stroke-width="2.5"/>
<circle cx="452.40" cy="28.00" r="3.2" stroke="#222" stroke-width="0.9" fill="none"/>
<line x1="440.20" y1="43.40" x2="464.50" y2="43.40" stroke="#ff1a1a" stroke-width="2.5"/>
<polygon points="447.6,47.1 457.3,47.1 452.45,38.9" fill="none" stroke="#222" stroke-width="0.9"/>
<text transform="translate(467.97,33.40) scale(1.004,1)" font-size="11.49" font-weight="bold" fill="#111" stroke="#111" stroke-width="0.2" >WT</text>
<text transform="translate(466.70,49.29) scale(1.032,1)" font-size="11.45" font-weight="bold" fill="#111" stroke="#111" stroke-width="0.2" >PD-1 KO</text>
<rect x="281.4" y="319.5" width="12.0" height="10.5" fill="none" stroke="#1fc94a" stroke-width="1.5"/>
<circle cx="287.30" cy="324.80" r="3.0" stroke="#333" stroke-width="1.0" fill="none"/>
<rect x="281.4" y="333.8" width="12.0" height="10.2" fill="none" stroke="#ee2222" stroke-width="1.5"/>
<polygon points="283.9,340.9 291.4,340.9 287.6,335.4" fill="none" stroke="#333" stroke-width="1.0"/>
<text transform="translate(304.97,329.60) scale(0.930,1)" font-size="11.78" font-weight="bold" fill="#111" stroke="#111" stroke-width="0.2" >WT</text>
<text transform="translate(300.79,345.38) scale(1.029,1)" font-size="11.73" font-weight="bold" fill="#111" stroke="#111" stroke-width="0.2" >PD-1 KO</text>
<line x1="439.60" y1="224.90" x2="439.60" y2="336.20" stroke="#222" stroke-width="1.3"/>
<line x1="439.00" y1="335.50" x2="537.70" y2="335.50" stroke="#222" stroke-width="1.3"/>
<line x1="434.80" y1="225.20" x2="439.60" y2="225.20" stroke="#222" stroke-width="1.1"/>
<text transform="translate(420.11,227.32) scale(1.120,1)" font-size="5.60" font-weight="bold" fill="#222" stroke="#222" stroke-width="0.15">8000</text>
<line x1="434.80" y1="252.90" x2="439.60" y2="252.90" stroke="#222" stroke-width="1.1"/>
<text transform="translate(420.11,255.03) scale(1.120,1)" font-size="5.60" font-weight="bold" fill="#222" stroke="#222" stroke-width="0.15">6000</text>
<line x1="434.80" y1="280.50" x2="439.60" y2="280.50" stroke="#222" stroke-width="1.1"/>
<text transform="translate(420.11,282.62) scale(1.120,1)" font-size="5.60" font-weight="bold" fill="#222" stroke="#222" stroke-width="0.15">4000</text>
<line x1="434.80" y1="308.00" x2="439.60" y2="308.00" stroke="#222" stroke-width="1.1"/>
<text transform="translate(420.11,310.12) scale(1.120,1)" font-size="5.60" font-weight="bold" fill="#222" stroke="#222" stroke-width="0.15">2000</text>
<line x1="434.80" y1="335.50" x2="439.60" y2="335.50" stroke="#222" stroke-width="1.1"/>
<text transform="translate(430.57,337.62) scale(1.120,1)" font-size="5.60" font-weight="bold" fill="#222" stroke="#222" stroke-width="0.15">0</text>
<line x1="464.80" y1="335.50" x2="464.80" y2="339.50" stroke="#222" stroke-width="1.2"/>
<line x1="513.20" y1="335.50" x2="513.20" y2="339.50" stroke="#222" stroke-width="1.2"/>
<path d="M446.05,335.5 V280.90 H463.05 V335.5" fill="none" stroke="#22e622" stroke-width="1.5"/>
<line x1="449.30" y1="280.90" x2="459.80" y2="280.90" stroke="#22e622" stroke-width="2.2"/>
<line x1="454.55" y1="279.70" x2="454.55" y2="282.10" stroke="#22e622" stroke-width="1.2"/>
<line x1="450.55" y1="279.70" x2="458.55" y2="279.70" stroke="#22e622" stroke-width="1.2"/>
<line x1="450.55" y1="282.10" x2="458.55" y2="282.10" stroke="#22e622" stroke-width="1.2"/>
<path d="M468.05,335.5 V276.40 H485.05 V335.5" fill="none" stroke="#ff2a2a" stroke-width="1.5"/>
<line x1="471.30" y1="276.40" x2="481.80" y2="276.40" stroke="#ff2a2a" stroke-width="2.2"/>
<line x1="476.55" y1="273.70" x2="476.55" y2="279.10" stroke="#ff2a2a" stroke-width="1.2"/>
<line x1="472.55" y1="273.70" x2="480.55" y2="273.70" stroke="#ff2a2a" stroke-width="1.2"/>
<line x1="472.55" y1="279.10" x2="480.55" y2="279.10" stroke="#ff2a2a" stroke-width="1.2"/>
<path d="M494.25,335.5 V300.50 H510.95 V335.5" fill="none" stroke="#22e622" stroke-width="1.5"/>
<line x1="497.50" y1="300.50" x2="507.70" y2="300.50" stroke="#22e622" stroke-width="2.2"/>
<line x1="502.60" y1="299.10" x2="502.60" y2="301.90" stroke="#22e622" stroke-width="1.2"/>
<line x1="498.60" y1="299.10" x2="506.60" y2="299.10" stroke="#22e622" stroke-width="1.2"/>
<line x1="498.60" y1="301.90" x2="506.60" y2="301.90" stroke="#22e622" stroke-width="1.2"/>
<path d="M516.15,335.5 V315.70 H532.95 V335.5" fill="none" stroke="#ff2a2a" stroke-width="1.5"/>
<line x1="519.40" y1="315.70" x2="529.70" y2="315.70" stroke="#ff2a2a" stroke-width="2.2"/>
<line x1="524.55" y1="313.50" x2="524.55" y2="317.90" stroke="#ff2a2a" stroke-width="1.2"/>
<line x1="520.55" y1="313.50" x2="528.55" y2="313.50" stroke="#ff2a2a" stroke-width="1.2"/>
<line x1="520.55" y1="317.90" x2="528.55" y2="317.90" stroke="#ff2a2a" stroke-width="1.2"/>
<circle cx="448.00" cy="283.80" r="2.7" stroke="#000" stroke-width="1.1" fill="none"/>
<circle cx="454.10" cy="277.70" r="2.7" stroke="#000" stroke-width="1.1" fill="none"/>
<circle cx="460.90" cy="278.90" r="2.7" stroke="#000" stroke-width="1.1" fill="none"/>
<circle cx="495.90" cy="295.20" r="2.7" stroke="#000" stroke-width="1.1" fill="none"/>
<circle cx="502.30" cy="297.20" r="2.7" stroke="#000" stroke-width="1.1" fill="none"/>
<circle cx="508.80" cy="297.00" r="2.7" stroke="#000" stroke-width="1.1" fill="none"/>
<circle cx="495.90" cy="304.40" r="2.7" stroke="#000" stroke-width="1.1" fill="none"/>
<circle cx="508.80" cy="304.40" r="2.7" stroke="#000" stroke-width="1.1" fill="none"/>
<polygon points="473.60,276.08 479.20,276.08 476.40,271.32" stroke="#000" stroke-width="1.1" fill="none" stroke-linejoin="miter"/>
<polygon points="473.60,283.48 479.20,283.48 476.40,278.72" stroke="#000" stroke-width="1.1" fill="none" stroke-linejoin="miter"/>
<polygon points="480.40,274.98 486.00,274.98 483.20,270.22" stroke="#000" stroke-width="1.1" fill="none" stroke-linejoin="miter"/>
<polygon points="521.80,311.18 527.40,311.18 524.60,306.42" stroke="#000" stroke-width="1.1" fill="none" stroke-linejoin="miter"/>
<polygon points="515.30,320.58 520.90,320.58 518.10,315.82" stroke="#000" stroke-width="1.1" fill="none" stroke-linejoin="miter"/>
<polygon points="521.80,318.08 527.40,318.08 524.60,313.32" stroke="#000" stroke-width="1.1" fill="#ff2a2a" stroke-linejoin="miter"/>
<polygon points="528.40,319.88 534.00,319.88 531.20,315.12" stroke="#000" stroke-width="1.1" fill="none" stroke-linejoin="miter"/>
<line x1="454.70" y1="246.60" x2="499.90" y2="246.60" stroke="#5c5c5c" stroke-width="1.0"/>
<text transform="translate(471.03,244.50) scale(1.000,1)" font-size="10.40" font-weight="bold" fill="#111" font-family="DejaVu Sans, sans-serif" stroke="#111" stroke-width="0.3">*</text>
<text transform="translate(478.13,244.50) scale(1.000,1)" font-size="10.40" font-weight="bold" fill="#111" font-family="DejaVu Sans, sans-serif" stroke="#111" stroke-width="0.3">*</text>
<line x1="457.20" y1="262.40" x2="475.70" y2="262.40" stroke="#5c5c5c" stroke-width="1.0"/>
<text transform="translate(461.28,256.63) scale(1.000,1)" font-size="9.60" font-weight="normal" fill="#333" stroke="#333" stroke-width="0.25">ns</text>
<line x1="483.10" y1="263.40" x2="521.90" y2="263.40" stroke="#5c5c5c" stroke-width="1.0"/>
<text transform="translate(496.03,261.30) scale(1.000,1)" font-size="10.40" font-weight="bold" fill="#111" font-family="DejaVu Sans, sans-serif" stroke="#111" stroke-width="0.3">*</text>
<text transform="translate(503.13,261.30) scale(1.000,1)" font-size="10.40" font-weight="bold" fill="#111" font-family="DejaVu Sans, sans-serif" stroke="#111" stroke-width="0.3">*</text>
<line x1="503.60" y1="290.30" x2="525.80" y2="290.30" stroke="#5c5c5c" stroke-width="1.0"/>
<text transform="translate(508.43,288.20) scale(1.000,1)" font-size="10.40" font-weight="bold" fill="#111" font-family="DejaVu Sans, sans-serif" stroke="#111" stroke-width="0.3">*</text>
<text transform="translate(515.53,288.20) scale(1.000,1)" font-size="10.40" font-weight="bold" fill="#111" font-family="DejaVu Sans, sans-serif" stroke="#111" stroke-width="0.3">*</text>
<text transform="translate(445.25,352.42) scale(0.989,1)" font-size="11.47" font-weight="bold" fill="#111" stroke="#111" stroke-width="0.2" >Control Cisplatin</text>
<text transform="translate(415.73,345.26) rotate(-90) scale(1.062,1)" font-size="10.94" font-weight="bold" fill="#111" stroke="#111" stroke-width="0.2">CSA of myofibers(μm<tspan font-size="0.8em" dy="-0.55em">2</tspan><tspan dy="0.44em">)</tspan></text>
<text transform="translate(381.19,232.45) scale(1.019,1)" font-size="14.98" font-weight="bold" fill="#111" stroke="#111" stroke-width="0.35" >C</text>
<line x1="60.30" y1="371.60" x2="60.30" y2="482.60" stroke="#222" stroke-width="1.3"/>
<line x1="59.70" y1="481.90" x2="160.00" y2="481.90" stroke="#222" stroke-width="1.3"/>
<line x1="55.50" y1="371.90" x2="60.30" y2="371.90" stroke="#222" stroke-width="1.1"/>
<text transform="translate(44.29,374.02) scale(1.120,1)" font-size="5.60" font-weight="bold" fill="#222" stroke="#222" stroke-width="0.15">150</text>
<line x1="55.50" y1="408.60" x2="60.30" y2="408.60" stroke="#222" stroke-width="1.1"/>
<text transform="translate(44.29,410.73) scale(1.120,1)" font-size="5.60" font-weight="bold" fill="#222" stroke="#222" stroke-width="0.15">100</text>
<line x1="55.50" y1="445.20" x2="60.30" y2="445.20" stroke="#222" stroke-width="1.1"/>
<text transform="translate(47.79,447.32) scale(1.120,1)" font-size="5.60" font-weight="bold" fill="#222" stroke="#222" stroke-width="0.15">50</text>
<line x1="55.50" y1="481.90" x2="60.30" y2="481.90" stroke="#222" stroke-width="1.1"/>
<text transform="translate(51.27,484.02) scale(1.120,1)" font-size="5.60" font-weight="bold" fill="#222" stroke="#222" stroke-width="0.15">0</text>
<line x1="85.90" y1="481.90" x2="85.90" y2="485.90" stroke="#222" stroke-width="1.2"/>
<line x1="133.30" y1="481.90" x2="133.30" y2="485.90" stroke="#222" stroke-width="1.2"/>
<path d="M66.65,481.9 V414.60 H83.35 V481.9" fill="none" stroke="#22e622" stroke-width="1.5"/>
<line x1="69.90" y1="414.60" x2="80.10" y2="414.60" stroke="#22e622" stroke-width="2.2"/>
<line x1="75.00" y1="413.10" x2="75.00" y2="416.10" stroke="#22e622" stroke-width="1.2"/>
<line x1="71.00" y1="413.10" x2="79.00" y2="413.10" stroke="#22e622" stroke-width="1.2"/>
<line x1="71.00" y1="416.10" x2="79.00" y2="416.10" stroke="#22e622" stroke-width="1.2"/>
<path d="M88.95,481.9 V413.80 H105.65 V481.9" fill="none" stroke="#ff2a2a" stroke-width="1.5"/>
<line x1="92.20" y1="413.80" x2="102.40" y2="413.80" stroke="#ff2a2a" stroke-width="2.2"/>
<line x1="97.30" y1="411.60" x2="97.30" y2="416.00" stroke="#ff2a2a" stroke-width="1.2"/>
<line x1="93.30" y1="411.60" x2="101.30" y2="411.60" stroke="#ff2a2a" stroke-width="1.2"/>
<line x1="93.30" y1="416.00" x2="101.30" y2="416.00" stroke="#ff2a2a" stroke-width="1.2"/>
<path d="M114.35,481.9 V429.20 H131.25 V481.9" fill="none" stroke="#22e622" stroke-width="1.5"/>
<line x1="117.60" y1="429.20" x2="128.00" y2="429.20" stroke="#22e622" stroke-width="2.2"/>
<line x1="122.80" y1="427.20" x2="122.80" y2="431.20" stroke="#22e622" stroke-width="1.2"/>
<line x1="118.80" y1="427.20" x2="126.80" y2="427.20" stroke="#22e622" stroke-width="1.2"/>
<line x1="118.80" y1="431.20" x2="126.80" y2="431.20" stroke="#22e622" stroke-width="1.2"/>
<path d="M136.65,481.9 V444.10 H153.65 V481.9" fill="none" stroke="#ff2a2a" stroke-width="1.5"/>
<line x1="139.90" y1="444.10" x2="150.40" y2="444.10" stroke="#ff2a2a" stroke-width="2.2"/>
<line x1="145.15" y1="441.10" x2="145.15" y2="447.10" stroke="#ff2a2a" stroke-width="1.2"/>
<line x1="141.15" y1="441.10" x2="149.15" y2="441.10" stroke="#ff2a2a" stroke-width="1.2"/>
<line x1="141.15" y1="447.10" x2="149.15" y2="447.10" stroke="#ff2a2a" stroke-width="1.2"/>
<circle cx="68.50" cy="418.00" r="2.7" stroke="#000" stroke-width="1.1" fill="none"/>
<circle cx="74.90" cy="411.30" r="2.7" stroke="#000" stroke-width="1.1" fill="none"/>
<circle cx="81.30" cy="413.80" r="2.7" stroke="#000" stroke-width="1.1" fill="none"/>
<circle cx="116.70" cy="428.00" r="2.7" stroke="#000" stroke-width="1.1" fill="none"/>
<circle cx="123.10" cy="428.00" r="2.7" stroke="#000" stroke-width="1.1" fill="none"/>
<circle cx="129.70" cy="426.70" r="2.7" stroke="#000" stroke-width="1.1" fill="none"/>
<circle cx="116.70" cy="434.40" r="2.7" stroke="#000" stroke-width="1.1" fill="none"/>
<circle cx="129.70" cy="433.80" r="2.7" stroke="#000" stroke-width="1.1" fill="none"/>
<polygon points="87.70,419.78 93.30,419.78 90.50,415.02" stroke="#000" stroke-width="1.1" fill="none" stroke-linejoin="miter"/>
<polygon points="94.10,413.18 99.70,413.18 96.90,408.42" stroke="#000" stroke-width="1.1" fill="none" stroke-linejoin="miter"/>
<polygon points="100.30,416.18 105.90,416.18 103.10,411.42" stroke="#000" stroke-width="1.1" fill="none" stroke-linejoin="miter"/>
<polygon points="142.10,439.78 147.70,439.78 144.90,435.02" stroke="#000" stroke-width="1.1" fill="none" stroke-linejoin="miter"/>
<polygon points="135.70,450.38 141.30,450.38 138.50,445.62" stroke="#000" stroke-width="1.1" fill="none" stroke-linejoin="miter"/>
<polygon points="142.10,446.48 147.70,446.48 144.90,441.72" stroke="#000" stroke-width="1.1" fill="#ff2a2a" stroke-linejoin="miter"/>
<polygon points="148.70,449.08 154.30,449.08 151.50,444.32" stroke="#000" stroke-width="1.1" fill="none" stroke-linejoin="miter"/>
<line x1="75.60" y1="376.20" x2="120.50" y2="376.20" stroke="#5c5c5c" stroke-width="1.0"/>
<text transform="translate(91.93,374.10) scale(1.000,1)" font-size="10.40" font-weight="bold" fill="#111" font-family="DejaVu Sans, sans-serif" stroke="#111" stroke-width="0.3">*</text>
<text transform="translate(99.03,374.10) scale(1.000,1)" font-size="10.40" font-weight="bold" fill="#111" font-family="DejaVu Sans, sans-serif" stroke="#111" stroke-width="0.3">*</text>
<line x1="78.20" y1="398.00" x2="96.20" y2="398.00" stroke="#5c5c5c" stroke-width="1.0"/>
<text transform="translate(81.98,392.23) scale(1.000,1)" font-size="9.60" font-weight="normal" fill="#333" stroke="#333" stroke-width="0.25">ns</text>
<line x1="103.00" y1="396.40" x2="141.80" y2="396.40" stroke="#5c5c5c" stroke-width="1.0"/>
<text transform="translate(116.33,394.30) scale(1.000,1)" font-size="10.40" font-weight="bold" fill="#111" font-family="DejaVu Sans, sans-serif" stroke="#111" stroke-width="0.3">*</text>
<text transform="translate(123.43,394.30) scale(1.000,1)" font-size="10.40" font-weight="bold" fill="#111" font-family="DejaVu Sans, sans-serif" stroke="#111" stroke-width="0.3">*</text>
<line x1="124.40" y1="418.20" x2="146.20" y2="418.20" stroke="#5c5c5c" stroke-width="1.0"/>
<text transform="translate(129.13,416.10) scale(1.000,1)" font-size="10.40" font-weight="bold" fill="#111" font-family="DejaVu Sans, sans-serif" stroke="#111" stroke-width="0.3">*</text>
<text transform="translate(136.23,416.10) scale(1.000,1)" font-size="10.40" font-weight="bold" fill="#111" font-family="DejaVu Sans, sans-serif" stroke="#111" stroke-width="0.3">*</text>
<text transform="translate(65.64,498.95) scale(1.055,1)" font-size="10.83" font-weight="bold" fill="#111" stroke="#111" stroke-width="0.2" >Control Cisplatin</text>
<text transform="translate(15.41,360.20) scale(0.953,1)" font-size="15.42" font-weight="bold" fill="#111" stroke="#111" stroke-width="0.35" >D</text>
<text transform="translate(27.06,472.28) rotate(-90) scale(0.821,1)" font-size="14.15" font-weight="bold" fill="#111" stroke="#111" stroke-width="0.2">Max diameter of</text>
<text transform="translate(40.75,468.74) rotate(-90) scale(1.049,1)" font-size="10.83" font-weight="bold" fill="#111" stroke="#111" stroke-width="0.2">myofibers (μm)</text>
<line x1="231.20" y1="376.50" x2="231.20" y2="487.60" stroke="#222" stroke-width="1.3"/>
<line x1="230.60" y1="486.90" x2="330.00" y2="486.90" stroke="#222" stroke-width="1.3"/>
<line x1="226.40" y1="376.50" x2="231.20" y2="376.50" stroke="#222" stroke-width="1.1"/>
<text transform="translate(218.69,378.62) scale(1.120,1)" font-size="5.60" font-weight="bold" fill="#222" stroke="#222" stroke-width="0.15">80</text>
<line x1="226.40" y1="404.10" x2="231.20" y2="404.10" stroke="#222" stroke-width="1.1"/>
<text transform="translate(218.69,406.23) scale(1.120,1)" font-size="5.60" font-weight="bold" fill="#222" stroke="#222" stroke-width="0.15">60</text>
<line x1="226.40" y1="431.70" x2="231.20" y2="431.70" stroke="#222" stroke-width="1.1"/>
<text transform="translate(218.69,433.82) scale(1.120,1)" font-size="5.60" font-weight="bold" fill="#222" stroke="#222" stroke-width="0.15">40</text>
<line x1="226.40" y1="459.40" x2="231.20" y2="459.40" stroke="#222" stroke-width="1.1"/>
<text transform="translate(218.69,461.52) scale(1.120,1)" font-size="5.60" font-weight="bold" fill="#222" stroke="#222" stroke-width="0.15">20</text>
<line x1="226.40" y1="486.90" x2="231.20" y2="486.90" stroke="#222" stroke-width="1.1"/>
<text transform="translate(222.17,489.02) scale(1.120,1)" font-size="5.60" font-weight="bold" fill="#222" stroke="#222" stroke-width="0.15">0</text>
<line x1="256.90" y1="486.90" x2="256.90" y2="490.90" stroke="#222" stroke-width="1.2"/>
<line x1="304.60" y1="486.90" x2="304.60" y2="490.90" stroke="#222" stroke-width="1.2"/>
<path d="M237.45,486.9 V414.20 H254.65 V486.9" fill="none" stroke="#22e622" stroke-width="1.5"/>
<line x1="240.70" y1="414.20" x2="251.40" y2="414.20" stroke="#22e622" stroke-width="2.2"/>
<line x1="246.05" y1="413.00" x2="246.05" y2="415.40" stroke="#22e622" stroke-width="1.2"/>
<line x1="242.05" y1="413.00" x2="250.05" y2="413.00" stroke="#22e622" stroke-width="1.2"/>
<line x1="242.05" y1="415.40" x2="250.05" y2="415.40" stroke="#22e622" stroke-width="1.2"/>
<path d="M259.75,486.9 V407.30 H276.45 V486.9" fill="none" stroke="#ff2a2a" stroke-width="1.5"/>
<line x1="263.00" y1="407.30" x2="273.20" y2="407.30" stroke="#ff2a2a" stroke-width="2.2"/>
<line x1="268.10" y1="405.30" x2="268.10" y2="409.30" stroke="#ff2a2a" stroke-width="1.2"/>
<line x1="264.10" y1="405.30" x2="272.10" y2="405.30" stroke="#ff2a2a" stroke-width="1.2"/>
<line x1="264.10" y1="409.30" x2="272.10" y2="409.30" stroke="#ff2a2a" stroke-width="1.2"/>
<path d="M286.15,486.9 V426.00 H302.55 V486.9" fill="none" stroke="#22e622" stroke-width="1.5"/>
<line x1="289.40" y1="426.00" x2="299.30" y2="426.00" stroke="#22e622" stroke-width="2.2"/>
<line x1="294.35" y1="424.40" x2="294.35" y2="427.60" stroke="#22e622" stroke-width="1.2"/>
<line x1="290.35" y1="424.40" x2="298.35" y2="424.40" stroke="#22e622" stroke-width="1.2"/>
<line x1="290.35" y1="427.60" x2="298.35" y2="427.60" stroke="#22e622" stroke-width="1.2"/>
<path d="M307.95,486.9 V439.90 H324.35 V486.9" fill="none" stroke="#ff2a2a" stroke-width="1.5"/>
<line x1="311.20" y1="439.90" x2="321.10" y2="439.90" stroke="#ff2a2a" stroke-width="2.2"/>
<line x1="316.15" y1="436.90" x2="316.15" y2="442.90" stroke="#ff2a2a" stroke-width="1.2"/>
<line x1="312.15" y1="436.90" x2="320.15" y2="436.90" stroke="#ff2a2a" stroke-width="1.2"/>
<line x1="312.15" y1="442.90" x2="320.15" y2="442.90" stroke="#ff2a2a" stroke-width="1.2"/>
<circle cx="239.70" cy="415.50" r="2.7" stroke="#000" stroke-width="1.1" fill="none"/>
<circle cx="246.20" cy="409.90" r="2.7" stroke="#000" stroke-width="1.1" fill="none"/>
<circle cx="252.60" cy="415.00" r="2.7" stroke="#000" stroke-width="1.1" fill="none"/>
<circle cx="288.00" cy="420.10" r="2.7" stroke="#000" stroke-width="1.1" fill="none"/>
<circle cx="294.40" cy="425.30" r="2.7" stroke="#000" stroke-width="1.1" fill="none"/>
<circle cx="300.80" cy="424.00" r="2.7" stroke="#000" stroke-width="1.1" fill="none"/>
<circle cx="288.00" cy="430.40" r="2.7" stroke="#000" stroke-width="1.1" fill="none"/>
<circle cx="300.80" cy="429.90" r="2.7" stroke="#000" stroke-width="1.1" fill="none"/>
<polygon points="258.70,413.58 264.30,413.58 261.50,408.82" stroke="#000" stroke-width="1.1" fill="none" stroke-linejoin="miter"/>
<polygon points="265.40,405.88 271.00,405.88 268.20,401.12" stroke="#000" stroke-width="1.1" fill="none" stroke-linejoin="miter"/>
<polygon points="271.80,410.18 277.40,410.18 274.60,405.42" stroke="#000" stroke-width="1.1" fill="none" stroke-linejoin="miter"/>
<polygon points="313.40,432.28 319.00,432.28 316.20,427.52" stroke="#000" stroke-width="1.1" fill="none" stroke-linejoin="miter"/>
<polygon points="306.90,448.88 312.50,448.88 309.70,444.12" stroke="#000" stroke-width="1.1" fill="none" stroke-linejoin="miter"/>
<polygon points="313.40,442.28 319.00,442.28 316.20,437.52" stroke="#000" stroke-width="1.1" fill="#ff2a2a" stroke-linejoin="miter"/>
<polygon points="319.80,444.28 325.40,444.28 322.60,439.52" stroke="#000" stroke-width="1.1" fill="none" stroke-linejoin="miter"/>
<line x1="246.90" y1="370.10" x2="291.80" y2="370.10" stroke="#5c5c5c" stroke-width="1.0"/>
<text transform="translate(266.18,368.00) scale(1.000,1)" font-size="10.40" font-weight="bold" fill="#111" font-family="DejaVu Sans, sans-serif" stroke="#111" stroke-width="0.3">*</text>
<line x1="249.50" y1="392.40" x2="267.40" y2="392.40" stroke="#5c5c5c" stroke-width="1.0"/>
<text transform="translate(253.28,386.63) scale(1.000,1)" font-size="9.60" font-weight="normal" fill="#333" stroke="#333" stroke-width="0.25">ns</text>
<line x1="274.40" y1="391.20" x2="313.10" y2="391.20" stroke="#5c5c5c" stroke-width="1.0"/>
<text transform="translate(287.53,389.10) scale(1.000,1)" font-size="10.40" font-weight="bold" fill="#111" font-family="DejaVu Sans, sans-serif" stroke="#111" stroke-width="0.3">*</text>
<text transform="translate(294.63,389.10) scale(1.000,1)" font-size="10.40" font-weight="bold" fill="#111" font-family="DejaVu Sans, sans-serif" stroke="#111" stroke-width="0.3">*</text>
<line x1="295.10" y1="413.20" x2="317.40" y2="413.20" stroke="#5c5c5c" stroke-width="1.0"/>
<text transform="translate(303.48,411.10) scale(1.000,1)" font-size="10.40" font-weight="bold" fill="#111" font-family="DejaVu Sans, sans-serif" stroke="#111" stroke-width="0.3">*</text>
<text transform="translate(237.04,503.86) scale(1.016,1)" font-size="11.26" font-weight="bold" fill="#111" stroke="#111" stroke-width="0.2" >Control Cisplatin</text>
<text transform="translate(181.80,360.20) scale(0.961,1)" font-size="15.42" font-weight="bold" fill="#111" stroke="#111" stroke-width="0.35" >E</text>
<text transform="translate(201.66,475.07) rotate(-90) scale(0.818,1)" font-size="13.88" font-weight="bold" fill="#111" stroke="#111" stroke-width="0.2">Min diameter of</text>
<text transform="translate(215.77,472.93) rotate(-90) scale(1.048,1)" font-size="10.72" font-weight="bold" fill="#111" stroke="#111" stroke-width="0.2">myofibers (μm)</text>
<line x1="427.70" y1="376.50" x2="427.70" y2="487.50" stroke="#222" stroke-width="1.3"/>
<line x1="427.10" y1="486.80" x2="526.00" y2="486.80" stroke="#222" stroke-width="1.3"/>
<line x1="422.90" y1="376.70" x2="427.70" y2="376.70" stroke="#222" stroke-width="1.1"/>
<text transform="translate(411.69,378.82) scale(1.120,1)" font-size="5.60" font-weight="bold" fill="#222" stroke="#222" stroke-width="0.15">100</text>
<line x1="422.90" y1="404.10" x2="427.70" y2="404.10" stroke="#222" stroke-width="1.1"/>
<text transform="translate(415.19,406.23) scale(1.120,1)" font-size="5.60" font-weight="bold" fill="#222" stroke="#222" stroke-width="0.15">80</text>
<line x1="422.90" y1="431.70" x2="427.70" y2="431.70" stroke="#222" stroke-width="1.1"/>
<text transform="translate(415.19,433.82) scale(1.120,1)" font-size="5.60" font-weight="bold" fill="#222" stroke="#222" stroke-width="0.15">60</text>
<line x1="422.90" y1="459.20" x2="427.70" y2="459.20" stroke="#222" stroke-width="1.1"/>
<text transform="translate(415.19,461.32) scale(1.120,1)" font-size="5.60" font-weight="bold" fill="#222" stroke="#222" stroke-width="0.15">40</text>
<line x1="422.90" y1="486.80" x2="427.70" y2="486.80" stroke="#222" stroke-width="1.1"/>
<text transform="translate(415.19,488.93) scale(1.120,1)" font-size="5.60" font-weight="bold" fill="#222" stroke="#222" stroke-width="0.15">20</text>
<line x1="453.50" y1="486.80" x2="453.50" y2="490.80" stroke="#222" stroke-width="1.2"/>
<line x1="501.70" y1="486.80" x2="501.70" y2="490.80" stroke="#222" stroke-width="1.2"/>
<path d="M434.25,486.8 V418.10 H451.15 V486.8" fill="none" stroke="#22e622" stroke-width="1.5"/>
<line x1="437.50" y1="418.10" x2="447.90" y2="418.10" stroke="#22e622" stroke-width="2.2"/>
<line x1="442.70" y1="416.80" x2="442.70" y2="419.40" stroke="#22e622" stroke-width="1.2"/>
<line x1="438.70" y1="416.80" x2="446.70" y2="416.80" stroke="#22e622" stroke-width="1.2"/>
<line x1="438.70" y1="419.40" x2="446.70" y2="419.40" stroke="#22e622" stroke-width="1.2"/>
<path d="M456.75,486.8 V414.20 H472.75 V486.8" fill="none" stroke="#ff2a2a" stroke-width="1.5"/>
<line x1="460.00" y1="414.20" x2="469.50" y2="414.20" stroke="#ff2a2a" stroke-width="2.2"/>
<line x1="464.75" y1="412.20" x2="464.75" y2="416.20" stroke="#ff2a2a" stroke-width="1.2"/>
<line x1="460.75" y1="412.20" x2="468.75" y2="412.20" stroke="#ff2a2a" stroke-width="1.2"/>
<line x1="460.75" y1="416.20" x2="468.75" y2="416.20" stroke="#ff2a2a" stroke-width="1.2"/>
<path d="M482.45,486.8 V438.10 H498.85 V486.8" fill="none" stroke="#22e622" stroke-width="1.5"/>
<line x1="485.70" y1="438.10" x2="495.60" y2="438.10" stroke="#22e622" stroke-width="2.2"/>
<line x1="490.65" y1="436.10" x2="490.65" y2="440.10" stroke="#22e622" stroke-width="1.2"/>
<line x1="486.65" y1="436.10" x2="494.65" y2="436.10" stroke="#22e622" stroke-width="1.2"/>
<line x1="486.65" y1="440.10" x2="494.65" y2="440.10" stroke="#22e622" stroke-width="1.2"/>
<path d="M504.25,486.8 V456.00 H520.65 V486.8" fill="none" stroke="#ff2a2a" stroke-width="1.5"/>
<line x1="507.50" y1="456.00" x2="517.40" y2="456.00" stroke="#ff2a2a" stroke-width="2.2"/>
<line x1="512.45" y1="453.00" x2="512.45" y2="459.00" stroke="#ff2a2a" stroke-width="1.2"/>
<line x1="508.45" y1="453.00" x2="516.45" y2="453.00" stroke="#ff2a2a" stroke-width="1.2"/>
<line x1="508.45" y1="459.00" x2="516.45" y2="459.00" stroke="#ff2a2a" stroke-width="1.2"/>
<circle cx="436.00" cy="421.90" r="2.7" stroke="#000" stroke-width="1.1" fill="none"/>
<circle cx="442.70" cy="416.30" r="2.7" stroke="#000" stroke-width="1.1" fill="none"/>
<circle cx="449.10" cy="418.10" r="2.7" stroke="#000" stroke-width="1.1" fill="none"/>
<circle cx="484.20" cy="432.40" r="2.7" stroke="#000" stroke-width="1.1" fill="none"/>
<circle cx="490.60" cy="434.20" r="2.7" stroke="#000" stroke-width="1.1" fill="none"/>
<circle cx="497.00" cy="434.20" r="2.7" stroke="#000" stroke-width="1.1" fill="none"/>
<circle cx="484.20" cy="443.20" r="2.7" stroke="#000" stroke-width="1.1" fill="none"/>
<circle cx="497.00" cy="442.40" r="2.7" stroke="#000" stroke-width="1.1" fill="none"/>
<polygon points="461.70,414.78 467.30,414.78 464.50,410.02" stroke="#000" stroke-width="1.1" fill="none" stroke-linejoin="miter"/>
<polygon points="461.70,421.18 467.30,421.18 464.50,416.42" stroke="#000" stroke-width="1.1" fill="none" stroke-linejoin="miter"/>
<polygon points="468.10,413.58 473.70,413.58 470.90,408.82" stroke="#000" stroke-width="1.1" fill="none" stroke-linejoin="miter"/>
<polygon points="509.60,448.18 515.20,448.18 512.40,443.42" stroke="#000" stroke-width="1.1" fill="none" stroke-linejoin="miter"/>
<polygon points="503.20,466.08 508.80,466.08 506.00,461.32" stroke="#000" stroke-width="1.1" fill="none" stroke-linejoin="miter"/>
<polygon points="509.60,458.38 515.20,458.38 512.40,453.62" stroke="#000" stroke-width="1.1" fill="#ff2a2a" stroke-linejoin="miter"/>
<polygon points="516.00,462.28 521.60,462.28 518.80,457.52" stroke="#000" stroke-width="1.1" fill="none" stroke-linejoin="miter"/>
<line x1="443.20" y1="383.50" x2="488.10" y2="383.50" stroke="#5c5c5c" stroke-width="1.0"/>
<text transform="translate(459.53,381.40) scale(1.000,1)" font-size="10.40" font-weight="bold" fill="#111" font-family="DejaVu Sans, sans-serif" stroke="#111" stroke-width="0.3">*</text>
<text transform="translate(466.63,381.40) scale(1.000,1)" font-size="10.40" font-weight="bold" fill="#111" font-family="DejaVu Sans, sans-serif" stroke="#111" stroke-width="0.3">*</text>
<line x1="445.80" y1="405.30" x2="463.70" y2="405.30" stroke="#5c5c5c" stroke-width="1.0"/>
<text transform="translate(449.48,399.53) scale(1.000,1)" font-size="9.60" font-weight="normal" fill="#333" stroke="#333" stroke-width="0.25">ns</text>
<line x1="470.90" y1="403.50" x2="509.90" y2="403.50" stroke="#5c5c5c" stroke-width="1.0"/>
<text transform="translate(483.83,401.40) scale(1.000,1)" font-size="10.40" font-weight="bold" fill="#111" font-family="DejaVu Sans, sans-serif" stroke="#111" stroke-width="0.3">*</text>
<text transform="translate(490.93,401.40) scale(1.000,1)" font-size="10.40" font-weight="bold" fill="#111" font-family="DejaVu Sans, sans-serif" stroke="#111" stroke-width="0.3">*</text>
<line x1="491.90" y1="425.80" x2="513.70" y2="425.80" stroke="#5c5c5c" stroke-width="1.0"/>
<text transform="translate(496.43,423.70) scale(1.000,1)" font-size="10.40" font-weight="bold" fill="#111" font-family="DejaVu Sans, sans-serif" stroke="#111" stroke-width="0.3">*</text>
<text transform="translate(503.53,423.70) scale(1.000,1)" font-size="10.40" font-weight="bold" fill="#111" font-family="DejaVu Sans, sans-serif" stroke="#111" stroke-width="0.3">*</text>
<text transform="translate(433.24,503.55) scale(1.060,1)" font-size="10.83" font-weight="bold" fill="#111" stroke="#111" stroke-width="0.2" >Control Cisplatin</text>
<text transform="translate(378.46,372.50) scale(0.891,1)" font-size="15.71" font-weight="bold" fill="#111" stroke="#111" stroke-width="0.35" >F</text>
<text transform="translate(394.46,475.97) rotate(-90) scale(0.818,1)" font-size="14.01" font-weight="bold" fill="#111" stroke="#111" stroke-width="0.2">Mea diameter of</text>
<text transform="translate(408.75,473.54) rotate(-90) scale(1.054,1)" font-size="10.83" font-weight="bold" fill="#111" stroke="#111" stroke-width="0.2">myofibers (μm)</text></svg>
</body></html>
